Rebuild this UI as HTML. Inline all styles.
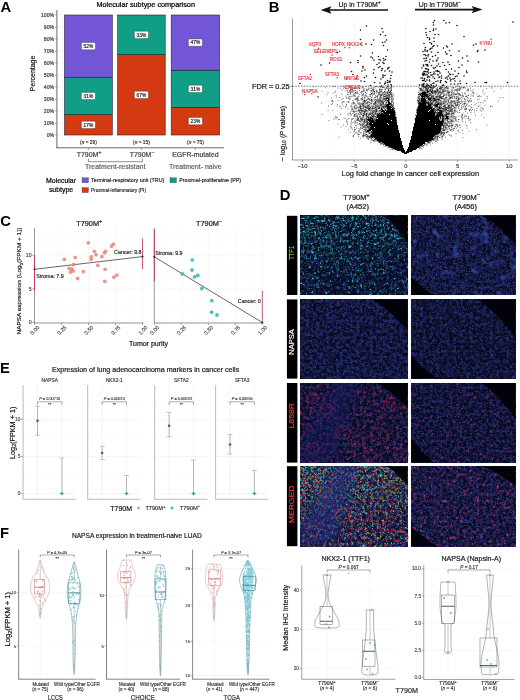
<!DOCTYPE html>
<html><head><meta charset="utf-8"><title>Figure</title>
<style>html,body{margin:0;padding:0;background:#fff;} svg{display:block;} text{font-family:'Liberation Sans', Arial, sans-serif;}</style>
</head><body>
<svg width="520" height="700" viewBox="0 0 520 700">
<defs><linearGradient id="gTopG" x1="0" y1="0" x2="0.25" y2="1"><stop offset="0" stop-color="#fff"/><stop offset="0.45" stop-color="#fff" stop-opacity="0.6"/><stop offset="0.75" stop-color="#fff" stop-opacity="0"/></linearGradient><mask id="gTop" maskContentUnits="objectBoundingBox"><rect width="1" height="1" fill="url(#gTopG)"/></mask><filter id="soft" x="-0.2" y="-0.2" width="1.4" height="1.4"><feGaussianBlur stdDeviation="4"/></filter><filter id="rblur" x="-0.3" y="-0.3" width="1.6" height="1.6"><feGaussianBlur stdDeviation="0.5"/></filter><filter id="t00" x="0" y="0" width="1" height="1" color-interpolation-filters="sRGB"><feFlood flood-color="#070a1c" result="bg"/><feTurbulence type="fractalNoise" baseFrequency="0.3" numOctaves="2" seed="3" result="h0"/><feColorMatrix in="h0" type="matrix" values="0 0 0 0 0.1 0 0 0 0 0.18 0 0 0 0 0.45 3.2 0 0 0 -1.45" result="c0"/><feTurbulence type="fractalNoise" baseFrequency="0.8" numOctaves="2" seed="4" result="h1"/><feColorMatrix in="h1" type="matrix" values="0 0 0 0 0.22 0 0 0 0 0.26 0 0 0 0 0.6 4 0 0 0 -2.4" result="c1"/><feTurbulence type="fractalNoise" baseFrequency="0.35" numOctaves="2" seed="7" result="h2"/><feColorMatrix in="h2" type="matrix" values="0 0 0 0 0.2 0 0 0 0 0.8 0 0 0 0 0.75 5 0 0 0 -3.1" result="c2"/><feMerge><feMergeNode in="bg"/><feMergeNode in="c0"/><feMergeNode in="c1"/><feMergeNode in="c2"/></feMerge></filter><filter id="t00e0" x="0" y="0" width="1" height="1" color-interpolation-filters="sRGB"><feFlood flood-color="rgba(0,0,0,0)" result="bg"/><feTurbulence type="fractalNoise" baseFrequency="0.4" numOctaves="2" seed="5" result="h0"/><feColorMatrix in="h0" type="matrix" values="0 0 0 0 0.2 0 0 0 0 0.8 0 0 0 0 0.7 5 0 0 0 -2.85" result="c0"/><feTurbulence type="fractalNoise" baseFrequency="0.5" numOctaves="2" seed="8" result="h1"/><feColorMatrix in="h1" type="matrix" values="0 0 0 0 0.2 0 0 0 0 0.7 0 0 0 0 0.45 5 0 0 0 -3.1" result="c1"/><feMerge><feMergeNode in="bg"/><feMergeNode in="c0"/><feMergeNode in="c1"/></feMerge></filter><filter id="t01" x="0" y="0" width="1" height="1" color-interpolation-filters="sRGB"><feFlood flood-color="#070a1c" result="bg"/><feTurbulence type="fractalNoise" baseFrequency="0.3" numOctaves="2" seed="13" result="h0"/><feColorMatrix in="h0" type="matrix" values="0 0 0 0 0.12 0 0 0 0 0.14 0 0 0 0 0.38 3.2 0 0 0 -1.2" result="c0"/><feTurbulence type="fractalNoise" baseFrequency="0.8" numOctaves="2" seed="14" result="h1"/><feColorMatrix in="h1" type="matrix" values="0 0 0 0 0.22 0 0 0 0 0.26 0 0 0 0 0.6 4 0 0 0 -2.2" result="c1"/><feTurbulence type="fractalNoise" baseFrequency="0.1" numOctaves="2" seed="15" result="h2"/><feColorMatrix in="h2" type="matrix" values="0 0 0 0 0.2 0 0 0 0 0.3 0 0 0 0 0.68 4 0 0 0 -2.4" result="c2"/><feMerge><feMergeNode in="bg"/><feMergeNode in="c0"/><feMergeNode in="c1"/><feMergeNode in="c2"/></feMerge></filter><filter id="t10" x="0" y="0" width="1" height="1" color-interpolation-filters="sRGB"><feFlood flood-color="#070a1c" result="bg"/><feTurbulence type="fractalNoise" baseFrequency="0.3" numOctaves="2" seed="23" result="h0"/><feColorMatrix in="h0" type="matrix" values="0 0 0 0 0.12 0 0 0 0 0.14 0 0 0 0 0.38 3.2 0 0 0 -1.2" result="c0"/><feTurbulence type="fractalNoise" baseFrequency="0.8" numOctaves="2" seed="24" result="h1"/><feColorMatrix in="h1" type="matrix" values="0 0 0 0 0.22 0 0 0 0 0.26 0 0 0 0 0.6 4 0 0 0 -2.3" result="c1"/><feMerge><feMergeNode in="bg"/><feMergeNode in="c0"/><feMergeNode in="c1"/></feMerge></filter><filter id="t11" x="0" y="0" width="1" height="1" color-interpolation-filters="sRGB"><feFlood flood-color="#070a1c" result="bg"/><feTurbulence type="fractalNoise" baseFrequency="0.3" numOctaves="2" seed="33" result="h0"/><feColorMatrix in="h0" type="matrix" values="0 0 0 0 0.12 0 0 0 0 0.14 0 0 0 0 0.38 3.2 0 0 0 -1.3" result="c0"/><feTurbulence type="fractalNoise" baseFrequency="0.8" numOctaves="2" seed="34" result="h1"/><feColorMatrix in="h1" type="matrix" values="0 0 0 0 0.22 0 0 0 0 0.26 0 0 0 0 0.6 4 0 0 0 -2.35" result="c1"/><feMerge><feMergeNode in="bg"/><feMergeNode in="c0"/><feMergeNode in="c1"/></feMerge></filter><filter id="t20" x="0" y="0" width="1" height="1" color-interpolation-filters="sRGB"><feFlood flood-color="#070a1c" result="bg"/><feTurbulence type="fractalNoise" baseFrequency="0.3" numOctaves="2" seed="43" result="h0"/><feColorMatrix in="h0" type="matrix" values="0 0 0 0 0.12 0 0 0 0 0.14 0 0 0 0 0.38 3.2 0 0 0 -1.3" result="c0"/><feTurbulence type="fractalNoise" baseFrequency="0.8" numOctaves="2" seed="44" result="h1"/><feColorMatrix in="h1" type="matrix" values="0 0 0 0 0.22 0 0 0 0 0.26 0 0 0 0 0.6 4 0 0 0 -2.35" result="c1"/><feTurbulence type="fractalNoise" baseFrequency="0.3" numOctaves="2" seed="45" result="h2"/><feColorMatrix in="h2" type="matrix" values="0 0 0 0 0.6 0 0 0 0 0.12 0 0 0 0 0.3 4.2 0 0 0 -2.4" result="c2"/><feMerge><feMergeNode in="bg"/><feMergeNode in="c0"/><feMergeNode in="c1"/><feMergeNode in="c2"/></feMerge></filter><clipPath id="cp20"><rect x="300.0" y="383.0" width="107.6" height="79.6"/></clipPath><filter id="t21" x="0" y="0" width="1" height="1" color-interpolation-filters="sRGB"><feFlood flood-color="#070a1c" result="bg"/><feTurbulence type="fractalNoise" baseFrequency="0.3" numOctaves="2" seed="53" result="h0"/><feColorMatrix in="h0" type="matrix" values="0 0 0 0 0.12 0 0 0 0 0.14 0 0 0 0 0.38 3.2 0 0 0 -1.3" result="c0"/><feTurbulence type="fractalNoise" baseFrequency="0.8" numOctaves="2" seed="54" result="h1"/><feColorMatrix in="h1" type="matrix" values="0 0 0 0 0.22 0 0 0 0 0.26 0 0 0 0 0.6 4 0 0 0 -2.35" result="c1"/><feTurbulence type="fractalNoise" baseFrequency="0.3" numOctaves="2" seed="55" result="h2"/><feColorMatrix in="h2" type="matrix" values="0 0 0 0 0.6 0 0 0 0 0.15 0 0 0 0 0.55 4 0 0 0 -2.55" result="c2"/><feMerge><feMergeNode in="bg"/><feMergeNode in="c0"/><feMergeNode in="c1"/><feMergeNode in="c2"/></feMerge></filter><filter id="t30" x="0" y="0" width="1" height="1" color-interpolation-filters="sRGB"><feFlood flood-color="#080a1e" result="bg"/><feTurbulence type="fractalNoise" baseFrequency="0.3" numOctaves="2" seed="63" result="h0"/><feColorMatrix in="h0" type="matrix" values="0 0 0 0 0.12 0 0 0 0 0.14 0 0 0 0 0.38 3.2 0 0 0 -1.1" result="c0"/><feTurbulence type="fractalNoise" baseFrequency="0.8" numOctaves="2" seed="64" result="h1"/><feColorMatrix in="h1" type="matrix" values="0 0 0 0 0.22 0 0 0 0 0.26 0 0 0 0 0.6 4 0 0 0 -2.3" result="c1"/><feTurbulence type="fractalNoise" baseFrequency="0.3" numOctaves="2" seed="65" result="h2"/><feColorMatrix in="h2" type="matrix" values="0 0 0 0 0.72 0 0 0 0 0.1 0 0 0 0 0.28 4.5 0 0 0 -2.6" result="c2"/><feTurbulence type="fractalNoise" baseFrequency="0.35" numOctaves="2" seed="66" result="h3"/><feColorMatrix in="h3" type="matrix" values="0 0 0 0 0.15 0 0 0 0 0.72 0 0 0 0 0.62 4.5 0 0 0 -2.65" result="c3"/><feTurbulence type="fractalNoise" baseFrequency="0.4" numOctaves="2" seed="67" result="h4"/><feColorMatrix in="h4" type="matrix" values="0 0 0 0 0.85 0 0 0 0 0.6 0 0 0 0 0.3 4.5 0 0 0 -2.75" result="c4"/><feMerge><feMergeNode in="bg"/><feMergeNode in="c0"/><feMergeNode in="c1"/><feMergeNode in="c2"/><feMergeNode in="c3"/><feMergeNode in="c4"/></feMerge></filter><filter id="t30e0" x="0" y="0" width="1" height="1" color-interpolation-filters="sRGB"><feFlood flood-color="rgba(0,0,0,0)" result="bg"/><feTurbulence type="fractalNoise" baseFrequency="0.4" numOctaves="2" seed="68" result="h0"/><feColorMatrix in="h0" type="matrix" values="0 0 0 0 0.15 0 0 0 0 0.72 0 0 0 0 0.62 4.5 0 0 0 -2.4" result="c0"/><feTurbulence type="fractalNoise" baseFrequency="0.45" numOctaves="2" seed="69" result="h1"/><feColorMatrix in="h1" type="matrix" values="0 0 0 0 0.85 0 0 0 0 0.6 0 0 0 0 0.3 4.5 0 0 0 -2.5" result="c1"/><feMerge><feMergeNode in="bg"/><feMergeNode in="c0"/><feMergeNode in="c1"/></feMerge></filter><clipPath id="cp30"><rect x="300.0" y="466.2" width="107.6" height="80.0"/></clipPath><filter id="t31" x="0" y="0" width="1" height="1" color-interpolation-filters="sRGB"><feFlood flood-color="#070a1c" result="bg"/><feTurbulence type="fractalNoise" baseFrequency="0.3" numOctaves="2" seed="73" result="h0"/><feColorMatrix in="h0" type="matrix" values="0 0 0 0 0.12 0 0 0 0 0.14 0 0 0 0 0.38 3.2 0 0 0 -1.2" result="c0"/><feTurbulence type="fractalNoise" baseFrequency="0.8" numOctaves="2" seed="74" result="h1"/><feColorMatrix in="h1" type="matrix" values="0 0 0 0 0.22 0 0 0 0 0.26 0 0 0 0 0.6 4 0 0 0 -2.3" result="c1"/><feTurbulence type="fractalNoise" baseFrequency="0.3" numOctaves="2" seed="75" result="h2"/><feColorMatrix in="h2" type="matrix" values="0 0 0 0 0.65 0 0 0 0 0.15 0 0 0 0 0.45 4.5 0 0 0 -2.6" result="c2"/><feTurbulence type="fractalNoise" baseFrequency="0.35" numOctaves="2" seed="76" result="h3"/><feColorMatrix in="h3" type="matrix" values="0 0 0 0 0.15 0 0 0 0 0.72 0 0 0 0 0.62 4 0 0 0 -2.85" result="c3"/><feMerge><feMergeNode in="bg"/><feMergeNode in="c0"/><feMergeNode in="c1"/><feMergeNode in="c2"/><feMergeNode in="c3"/></feMerge></filter></defs>
<rect width="520" height="700" fill="#fff"/>
<text x="0.50" y="11.50" font-size="14.8" font-weight="bold">A</text>
<text x="145.70" y="7.20" font-size="7.3" text-anchor="middle" textLength="98.5" lengthAdjust="spacingAndGlyphs" stroke="#000" stroke-width="0.219">Molecular subtype comparison</text>
<line x1="57.50" y1="135.00" x2="225.00" y2="135.00" stroke="#ececec" stroke-width="0.4"/>
<line x1="57.50" y1="123.00" x2="225.00" y2="123.00" stroke="#ececec" stroke-width="0.4"/>
<line x1="57.50" y1="111.00" x2="225.00" y2="111.00" stroke="#ececec" stroke-width="0.4"/>
<line x1="57.50" y1="99.00" x2="225.00" y2="99.00" stroke="#ececec" stroke-width="0.4"/>
<line x1="57.50" y1="87.00" x2="225.00" y2="87.00" stroke="#ececec" stroke-width="0.4"/>
<line x1="57.50" y1="75.00" x2="225.00" y2="75.00" stroke="#ececec" stroke-width="0.4"/>
<line x1="57.50" y1="63.00" x2="225.00" y2="63.00" stroke="#ececec" stroke-width="0.4"/>
<line x1="57.50" y1="51.00" x2="225.00" y2="51.00" stroke="#ececec" stroke-width="0.4"/>
<line x1="57.50" y1="39.00" x2="225.00" y2="39.00" stroke="#ececec" stroke-width="0.4"/>
<line x1="57.50" y1="27.00" x2="225.00" y2="27.00" stroke="#ececec" stroke-width="0.4"/>
<line x1="57.50" y1="15.00" x2="225.00" y2="15.00" stroke="#ececec" stroke-width="0.4"/>
<line x1="56.90" y1="10.00" x2="56.90" y2="148.20" stroke="#444" stroke-width="0.8"/>
<line x1="56.50" y1="147.80" x2="224.00" y2="147.80" stroke="#444" stroke-width="0.8"/>
<line x1="54.80" y1="135.00" x2="57.00" y2="135.00" stroke="#555" stroke-width="0.5"/>
<text x="54.20" y="136.80" font-size="5.2" text-anchor="end" fill="#333" stroke="#333" stroke-width="0.156">0%</text>
<line x1="54.80" y1="123.00" x2="57.00" y2="123.00" stroke="#555" stroke-width="0.5"/>
<text x="54.20" y="124.80" font-size="5.2" text-anchor="end" fill="#333" stroke="#333" stroke-width="0.156">10%</text>
<line x1="54.80" y1="111.00" x2="57.00" y2="111.00" stroke="#555" stroke-width="0.5"/>
<text x="54.20" y="112.80" font-size="5.2" text-anchor="end" fill="#333" stroke="#333" stroke-width="0.156">20%</text>
<line x1="54.80" y1="99.00" x2="57.00" y2="99.00" stroke="#555" stroke-width="0.5"/>
<text x="54.20" y="100.80" font-size="5.2" text-anchor="end" fill="#333" stroke="#333" stroke-width="0.156">30%</text>
<line x1="54.80" y1="87.00" x2="57.00" y2="87.00" stroke="#555" stroke-width="0.5"/>
<text x="54.20" y="88.80" font-size="5.2" text-anchor="end" fill="#333" stroke="#333" stroke-width="0.156">40%</text>
<line x1="54.80" y1="75.00" x2="57.00" y2="75.00" stroke="#555" stroke-width="0.5"/>
<text x="54.20" y="76.80" font-size="5.2" text-anchor="end" fill="#333" stroke="#333" stroke-width="0.156">50%</text>
<line x1="54.80" y1="63.00" x2="57.00" y2="63.00" stroke="#555" stroke-width="0.5"/>
<text x="54.20" y="64.80" font-size="5.2" text-anchor="end" fill="#333" stroke="#333" stroke-width="0.156">60%</text>
<line x1="54.80" y1="51.00" x2="57.00" y2="51.00" stroke="#555" stroke-width="0.5"/>
<text x="54.20" y="52.80" font-size="5.2" text-anchor="end" fill="#333" stroke="#333" stroke-width="0.156">70%</text>
<line x1="54.80" y1="39.00" x2="57.00" y2="39.00" stroke="#555" stroke-width="0.5"/>
<text x="54.20" y="40.80" font-size="5.2" text-anchor="end" fill="#333" stroke="#333" stroke-width="0.156">80%</text>
<line x1="54.80" y1="27.00" x2="57.00" y2="27.00" stroke="#555" stroke-width="0.5"/>
<text x="54.20" y="28.80" font-size="5.2" text-anchor="end" fill="#333" stroke="#333" stroke-width="0.156">90%</text>
<line x1="54.80" y1="15.00" x2="57.00" y2="15.00" stroke="#555" stroke-width="0.5"/>
<text x="54.20" y="16.80" font-size="5.2" text-anchor="end" fill="#333" stroke="#333" stroke-width="0.156">100%</text>
<text transform="translate(35.30,73.50) rotate(-90)" font-size="7.0" text-anchor="middle" fill="#222" stroke="#222" stroke-width="0.210">Percentage</text>
<rect x="64.50" y="114.60" width="47.80" height="20.40" fill="#d43a12" stroke="#1a1a2a" stroke-width="0.55"/>
<rect x="64.50" y="77.40" width="47.80" height="37.20" fill="#119e87" stroke="#1a1a2a" stroke-width="0.55"/>
<rect x="64.50" y="15.00" width="47.80" height="62.40" fill="#7356d6" stroke="#1a1a2a" stroke-width="0.55"/>
<rect x="81.40" y="121.20" width="14.00" height="7.20" fill="#fff" stroke="#222" stroke-width="0.35" rx="0.8"/>
<text x="88.40" y="126.50" font-size="4.8" text-anchor="middle" fill="#111" stroke="#111" stroke-width="0.144">17%</text>
<rect x="81.40" y="92.40" width="14.00" height="7.20" fill="#fff" stroke="#222" stroke-width="0.35" rx="0.8"/>
<text x="88.40" y="97.70" font-size="4.8" text-anchor="middle" fill="#111" stroke="#111" stroke-width="0.144">31%</text>
<rect x="81.40" y="42.60" width="14.00" height="7.20" fill="#fff" stroke="#222" stroke-width="0.35" rx="0.8"/>
<text x="88.40" y="47.90" font-size="4.8" text-anchor="middle" fill="#111" stroke="#111" stroke-width="0.144">52%</text>
<rect x="117.60" y="54.60" width="47.60" height="80.40" fill="#d43a12" stroke="#1a1a2a" stroke-width="0.55"/>
<rect x="117.60" y="15.00" width="47.60" height="39.60" fill="#119e87" stroke="#1a1a2a" stroke-width="0.55"/>
<rect x="134.40" y="91.20" width="14.00" height="7.20" fill="#fff" stroke="#222" stroke-width="0.35" rx="0.8"/>
<text x="141.40" y="96.50" font-size="4.8" text-anchor="middle" fill="#111" stroke="#111" stroke-width="0.144">67%</text>
<rect x="134.40" y="31.20" width="14.00" height="7.20" fill="#fff" stroke="#222" stroke-width="0.35" rx="0.8"/>
<text x="141.40" y="36.50" font-size="4.8" text-anchor="middle" fill="#111" stroke="#111" stroke-width="0.144">33%</text>
<rect x="171.20" y="107.40" width="48.40" height="27.60" fill="#d43a12" stroke="#1a1a2a" stroke-width="0.55"/>
<rect x="171.20" y="70.20" width="48.40" height="37.20" fill="#119e87" stroke="#1a1a2a" stroke-width="0.55"/>
<rect x="171.20" y="15.00" width="48.40" height="55.20" fill="#7356d6" stroke="#1a1a2a" stroke-width="0.55"/>
<rect x="188.40" y="117.60" width="14.00" height="7.20" fill="#fff" stroke="#222" stroke-width="0.35" rx="0.8"/>
<text x="195.40" y="122.90" font-size="4.8" text-anchor="middle" fill="#111" stroke="#111" stroke-width="0.144">23%</text>
<rect x="188.40" y="85.20" width="14.00" height="7.20" fill="#fff" stroke="#222" stroke-width="0.35" rx="0.8"/>
<text x="195.40" y="90.50" font-size="4.8" text-anchor="middle" fill="#111" stroke="#111" stroke-width="0.144">31%</text>
<rect x="188.40" y="39.00" width="14.00" height="7.20" fill="#fff" stroke="#222" stroke-width="0.35" rx="0.8"/>
<text x="195.40" y="44.30" font-size="4.8" text-anchor="middle" fill="#111" stroke="#111" stroke-width="0.144">47%</text>
<text x="88.40" y="143.80" font-size="4.8" text-anchor="middle" fill="#222" stroke="#222" stroke-width="0.144">(<tspan font-style="italic">n</tspan> = 29)</text>
<line x1="88.40" y1="148.00" x2="88.40" y2="150.00" stroke="#555" stroke-width="0.5"/>
<text x="141.40" y="143.80" font-size="4.8" text-anchor="middle" fill="#222" stroke="#222" stroke-width="0.144">(<tspan font-style="italic">n</tspan> = 15)</text>
<line x1="141.40" y1="148.00" x2="141.40" y2="150.00" stroke="#555" stroke-width="0.5"/>
<text x="195.40" y="143.80" font-size="4.8" text-anchor="middle" fill="#222" stroke="#222" stroke-width="0.144">(<tspan font-style="italic">n</tspan> = 75)</text>
<line x1="195.40" y1="148.00" x2="195.40" y2="150.00" stroke="#555" stroke-width="0.5"/>
<text x="89.20" y="156.60" font-size="6.9" text-anchor="middle" fill="#444" stroke="#444" stroke-width="0.207">T790M<tspan dy="-2.8" font-size="5.6">+</tspan></text>
<text x="142.20" y="156.60" font-size="6.9" text-anchor="middle" fill="#444" stroke="#444" stroke-width="0.207">T790M<tspan dy="-2.8" font-size="5.6">−</tspan></text>
<text x="195.40" y="156.60" font-size="6.9" text-anchor="middle" fill="#444" stroke="#444" stroke-width="0.207">EGFR-mutated</text>
<path d="M88.5 158.6 V161.7 H142.3 V158.6" fill="none" stroke="#444" stroke-width="0.6"/>
<text x="115.20" y="169.40" font-size="7.0" text-anchor="middle" fill="#666" stroke="#666" stroke-width="0.210">Treatment-resistant</text>
<text x="195.40" y="169.40" font-size="7.0" text-anchor="middle" fill="#666" stroke="#666" stroke-width="0.210">Treatment- naive</text>
<text x="61.00" y="183.00" font-size="6.9" text-anchor="middle" stroke="#000" stroke-width="0.207">Molecular</text>
<text x="61.00" y="191.80" font-size="6.9" text-anchor="middle" stroke="#000" stroke-width="0.207">subtype</text>
<rect x="82.00" y="177.80" width="6.50" height="5.00" fill="#7356d6" stroke="#333" stroke-width="0.3"/>
<rect x="82.00" y="187.60" width="6.50" height="5.00" fill="#d43a12" stroke="#333" stroke-width="0.3"/>
<rect x="170.00" y="177.80" width="6.50" height="5.00" fill="#119e87" stroke="#333" stroke-width="0.3"/>
<text x="91.00" y="182.20" font-size="5.35" fill="#222" stroke="#222" stroke-width="0.160">Terminal-respiratory unit (TRU)</text>
<text x="179.30" y="182.20" font-size="5.3" fill="#222" stroke="#222" stroke-width="0.159">Proximal-proliferative (PP)</text>
<text x="91.00" y="192.00" font-size="4.65" fill="#222" stroke="#222" stroke-width="0.140">Proximal-inflammatory (PI)</text>
<text x="268.70" y="11.70" font-size="14.8" font-weight="bold">B</text>
<line x1="388" y1="10" x2="326" y2="10" stroke="#111" stroke-width="1.7"/>
<path d="M320.6 10 L331.5 6.3 L329.3 10 L331.5 13.7 Z" fill="#111"/>
<line x1="415" y1="9.6" x2="477" y2="9.6" stroke="#111" stroke-width="1.7"/>
<path d="M482.5 9.6 L471.6 5.9 L473.8 9.6 L471.6 13.3 Z" fill="#111"/>
<text x="338.50" y="6.60" font-size="6.9" fill="#222" stroke="#222" stroke-width="0.207">Up in T790M<tspan dy="-2.3" font-size="5">+</tspan></text>
<text x="418.70" y="6.60" font-size="6.9" fill="#222" stroke="#222" stroke-width="0.207">Up in T790M<tspan dy="-2.3" font-size="5">−</tspan></text>
<line x1="302.60" y1="18.50" x2="302.60" y2="160.00" stroke="#ebebeb" stroke-width="0.5"/>
<line x1="354.25" y1="18.50" x2="354.25" y2="160.00" stroke="#ebebeb" stroke-width="0.5"/>
<line x1="405.90" y1="18.50" x2="405.90" y2="160.00" stroke="#ebebeb" stroke-width="0.5"/>
<line x1="457.55" y1="18.50" x2="457.55" y2="160.00" stroke="#ebebeb" stroke-width="0.5"/>
<line x1="509.20" y1="18.50" x2="509.20" y2="160.00" stroke="#ebebeb" stroke-width="0.5"/>
<line x1="328.42" y1="18.50" x2="328.42" y2="160.00" stroke="#f4f4f4" stroke-width="0.4"/>
<line x1="380.07" y1="18.50" x2="380.07" y2="160.00" stroke="#f4f4f4" stroke-width="0.4"/>
<line x1="431.72" y1="18.50" x2="431.72" y2="160.00" stroke="#f4f4f4" stroke-width="0.4"/>
<line x1="483.38" y1="18.50" x2="483.38" y2="160.00" stroke="#f4f4f4" stroke-width="0.4"/>
<line x1="292.50" y1="18.50" x2="292.50" y2="160.00" stroke="#555" stroke-width="0.6"/>
<line x1="292.50" y1="160.00" x2="518.00" y2="160.00" stroke="#555" stroke-width="0.6"/>
<line x1="302.60" y1="160.00" x2="302.60" y2="162.00" stroke="#555" stroke-width="0.5"/>
<text x="302.60" y="168.20" font-size="5.8" text-anchor="middle" fill="#444" stroke="#444" stroke-width="0.174">−10</text>
<line x1="354.25" y1="160.00" x2="354.25" y2="162.00" stroke="#555" stroke-width="0.5"/>
<text x="354.25" y="168.20" font-size="5.8" text-anchor="middle" fill="#444" stroke="#444" stroke-width="0.174">−5</text>
<line x1="405.90" y1="160.00" x2="405.90" y2="162.00" stroke="#555" stroke-width="0.5"/>
<text x="405.90" y="168.20" font-size="5.8" text-anchor="middle" fill="#444" stroke="#444" stroke-width="0.174">0</text>
<line x1="457.55" y1="160.00" x2="457.55" y2="162.00" stroke="#555" stroke-width="0.5"/>
<text x="457.55" y="168.20" font-size="5.8" text-anchor="middle" fill="#444" stroke="#444" stroke-width="0.174">5</text>
<line x1="509.20" y1="160.00" x2="509.20" y2="162.00" stroke="#555" stroke-width="0.5"/>
<text x="509.20" y="168.20" font-size="5.8" text-anchor="middle" fill="#444" stroke="#444" stroke-width="0.174">10</text>
<text x="410.30" y="176.00" font-size="7.5" text-anchor="middle" fill="#222" stroke="#222" stroke-width="0.225">Log fold change in cancer cell expression</text>
<text transform="translate(284.50,133.60) rotate(-90)" font-size="7.2" text-anchor="middle" fill="#222" stroke="#222" stroke-width="0.216">− log<tspan font-size="5" dy="1.5">10</tspan><tspan dy="-1.5"> (</tspan><tspan font-style="italic">P</tspan> values)</text>
<text x="289.50" y="88.60" font-size="7.3" text-anchor="end" fill="#222" stroke="#222" stroke-width="0.219">FDR = 0.25</text>
<line x1="289.50" y1="86.20" x2="292.50" y2="86.20" stroke="#555" stroke-width="0.5"/>
<path d="M427 90.5h1M427 91.5h1M431 91.5h1M422 92.5h4M427 92.5h1M421 93.5h5M420 94.5h7M422 95.5h1M424 95.5h3M421 96.5h4M426 96.5h1M428 96.5h1M422 97.5h1M386 98.5h3M421 98.5h4M428 98.5h3M433 98.5h2M388 99.5h1M421 99.5h5M428 99.5h3M387 100.5h2M421 100.5h5M434 100.5h1M388 101.5h1M421 101.5h5M388 102.5h2M419 102.5h1M422 102.5h5M428 102.5h1M388 103.5h3M419 103.5h7M428 103.5h1M438 103.5h1M387 104.5h3M419 104.5h7M428 104.5h3M436 104.5h3M386 105.5h3M419 105.5h7M428 105.5h3M435 105.5h3M386 106.5h5M392 106.5h1M418 106.5h13M436 106.5h2M387 107.5h5M418 107.5h14M439 107.5h1M369 108.5h1M387 108.5h4M392 108.5h1M418 108.5h14M439 108.5h1M381 109.5h2M387 109.5h7M418 109.5h12M431 109.5h3M382 110.5h2M385 110.5h1M387 110.5h7M417 110.5h12M430 110.5h4M439 110.5h3M381 111.5h4M386 111.5h9M417 111.5h11M429 111.5h5M440 111.5h2M383 112.5h12M417 112.5h18M438 112.5h4M379 113.5h1M381 113.5h2M384 113.5h11M417 113.5h18M439 113.5h3M378 114.5h1M380 114.5h9M390 114.5h5M417 114.5h18M437 114.5h6M377 115.5h18M416 115.5h19M436 115.5h7M372 116.5h1M377 116.5h18M416 116.5h24M442 116.5h2M446 116.5h2M370 117.5h1M377 117.5h19M416 117.5h23M440 117.5h1M446 117.5h2M370 118.5h3M378 118.5h18M415 118.5h24M446 118.5h2M367 119.5h4M372 119.5h1M376 119.5h20M415 119.5h24M442 119.5h1M368 120.5h6M375 120.5h16M392 120.5h4M415 120.5h14M430 120.5h10M442 120.5h1M369 121.5h5M376 121.5h20M415 121.5h29M370 122.5h27M415 122.5h28M369 123.5h3M373 123.5h14M388 123.5h9M414 123.5h29M369 124.5h19M389 124.5h8M414 124.5h21M436 124.5h7M370 125.5h28M414 125.5h28M371 126.5h27M414 126.5h27M370 127.5h4M375 127.5h23M413 127.5h28M370 128.5h28M413 128.5h28M369 129.5h29M413 129.5h28M367 130.5h4M372 130.5h27M413 130.5h28M367 131.5h2M373 131.5h26M412 131.5h28M372 132.5h27M412 132.5h28M372 133.5h28M412 133.5h27M371 134.5h29M412 134.5h25M371 135.5h29M412 135.5h23M371 136.5h29M411 136.5h23M372 137.5h1M374 137.5h26M411 137.5h22M375 138.5h26M411 138.5h22M377 139.5h24M411 139.5h22M377 140.5h24M410 140.5h21M379 141.5h23M410 141.5h19M382 142.5h20M410 142.5h15M384 143.5h18M409 143.5h16M385 144.5h17M409 144.5h14M386 145.5h17M409 145.5h13M389 146.5h14M409 146.5h11M391 147.5h12M408 147.5h11M393 148.5h11M408 148.5h9M395 149.5h9M407 149.5h9M397 150.5h8M407 150.5h6M401 151.5h4M406 151.5h6M402 152.5h7M404 153.5h3" stroke="#000" stroke-width="1.05" fill="none"/>
<path transform="scale(0.5)" d="M961 173h0m-33 1h0m-33 2h0m-33 0h0m-1-1h0m-6-2h0m-3 1h0m-9 2h0m-61-1h0m-6-2h0m-11 2h0m-4-1h0m-17 1h0m-35 1h0m-33 0h0m-6-3h0m31 5h0m2 6h0m3-4h0m0 4h0m9 0h0m9-1h0m10-4h0m3-3h0m10 7h0m0-4h0m27-2h0m3 4h0m6-1h0m59 2h0m3 0h0m16-3h0m0 1h0m2-3h0m14 3h0m1 4h0m1-2h0m0 0h0m1-5h0m5 3h0m0 3h0m3-6h0m4 3h0m13 0h0m0 2h0m7-1h0m3-2h0m6-3h0m15 6h0m1-2h0m0 11h0m-17 0h0m-32-5h0m-5-1h0m-1 1h0m-1 1h0m0 4h0m-7 0h0m-3-3h0m-1-4h0m-2 3h0m-13 3h0m-7 1h0m-11-2h0m-50 1h0m-4-2h0m-4 1h0m-12-4h0m-2 3h0m-18 0h0m-33-1h0m-8 3h0m-69 3h0m77 1h0m3-2h0m16 8h0m6-2h0m10-3h0m5-3h0m18 1h0m1 6h0m0 0h0m6-4h0m0 3h0m4-1h0m55 0h0m2 1h0m15-3h0m8 1h0m0-2h0m1 4h0m0-1h0m1 0h0m6-4h0m1 0h0m0 3h0m1-3h0m1 5h0m0 1h0m8-2h0m10 1h0m6-5h0m7 1h0m30 6h0m22-7h0m1 5h0m12 2h0m4-7h0m32 2h0m-68 7h0m-14 1h0m-11-1h0m-2 5h0m-2-5h0m-6 4h0m-1-4h0m-19 3h0m-3 1h0m-5 2h0m-3-4h0m-1 3h0m-4-5h0m-3-2h0m-2 7h0m-1-3h0m-1 3h0m-4-4h0m-2 3h0m-2 1h0m-12-3h0m-53 2h0m-15-1h0m-7-2h0m-1-1h0m-3 6h0m-3-2h0m-1-5h0m-6 4h0m0 2h0m-4-5h0m-18 2h0m-6 3h0m-2-1h0m-4 2h0m-1-1h0m-8-2h0m-43 2h0m-1-6h0m0 2h0m10 9h0m12 0h0m20 2h0m13-5h0m2 6h0m11 0h0m2-7h0m2 4h0m2 3h0m4-1h0m3-1h0m6 2h0m1-1h0m9-3h0m8 1h0m11-4h0m3 5h0m79-4h0m7 3h0m13-3h0m3 7h0m7-7h0m3 7h0m7-2h0m6-2h0m3-2h0m3-1h0m4-1h0m43 12h0m-23-1h0m-19 2h0m-5 2h0m-9-4h0m0 4h0m-1-5h0m-2 5h0m0-3h0m-1-2h0m0 1h0m-4-2h0m-1 5h0m-1-1h0m-5-4h0m-3 3h0m0-3h0m-3 0h0m-4 2h0m-4 0h0m-3 2h0m-110-3h0m-7-1h0m-2 3h0m-1-1h0m0 1h0m-1-2h0m0 5h0m-15-6h0m-4-1h0m-1 3h0m0 2h0m-1-2h0m-2 0h0m-1 3h0m-1-2h0m-6 1h0m-1 0h0m-6 2h0m-3-6h0m-15 10h0m5-1h0m9 3h0m17-1h0m0-1h0m2-3h0m4 7h0m5-3h0m7-1h0m6 0h0m1 2h0m4-5h0m114 7h0m7-3h0m15 0h0m2 3h0m2-2h0m1-4h0m2 4h0m3-2h0m5 0h0m11 5h0m1-7h0m7 1h0m6 6h0m10-7h0m-31 13h0m-14-5h0m-1 4h0m-5 0h0m-4 1h0m-3-1h0m-2-1h0m-131-2h0m-3 2h0m0-4h0m-5 7h0m-19-2h0m-3 0h0m-10 0h0m0-4h0m-2-1h0m-21 4h0m5 5h0m22 4h0m17-4h0m0 0h0m2 1h0m1 4h0m0-3h0m16 0h0m41 0h0m0 0h0m1-2h0m90 0h0m3 0h0m0 0h0m2 5h0m7-4h0m7 5h0m1-6h0m3 2h0m0-3h0m7 9h0m-1-1h0m-8 3h0m-12 5h0m-4-4h0m-2-2h0m0-1h0m-1 2h0m-146 4h0m0-1h0m-5-5h0m-1 0h0m-4 5h0m-6-4h0m-14 10h0m28-4h0m7 7h0m52-6h0m86 7h0m7-3h0m15 1h0m4-4h0m9 2h0m21 2h0m-49 2h0m-12 8h0m-1-4h0m-138-1h0m-4-2h0m-1 3h0m-17 0h0m-6-3h0m24 7h0m13 4h0m125-2h0m7 1h0m5-3h0m7 2h0m-19 9h0m-7-3h0m-5 5h0m-4 1h0m-96-2h0m-10-3h0m27 12h0m67 0h0m3 1h0m14-4h0m-76 9h0m-1-2h0m-2 2h0" stroke="#000" stroke-opacity="0.5" stroke-width="2.5" stroke-linecap="round"/>
<path transform="scale(0.5)" d="M891 175h0m-17 1h0m-15-3h0m-2 2h0m-5 1h0m-5-3h0m-85 0h0m-11 0h0m-3 2h0m-16-2h0m-7 0h0m-21 5h0m6-2h0m11 8h0m7-3h0m0-3h0m6 2h0m7 1h0m6 0h0m6 1h0m1 0h0m6 1h0m9 0h0m0 0h0m8-1h0m83 1h0m4-1h0m1-3h0m1-3h0m7 8h0m1-1h0m6-6h0m1 7h0m14-3h0m4 3h0m0 0h0m7-7h0m2 6h0m5-5h0m24 0h0m5 3h0m42-5h0m18 0h0m-44 15h0m-4-3h0m-9-3h0m-8 5h0m-8-3h0m-8 2h0m-2-1h0m-13 3h0m-1-5h0m-2-1h0m-3 7h0m-3-6h0m-5 2h0m-11-4h0m-2 7h0m-4-3h0m-6-4h0m-4 2h0m-9-1h0m-1 5h0m0 1h0m-2-6h0m-9 1h0m-3 5h0m-2-4h0m-56 3h0m-5 1h0m-2-4h0m-7 2h0m-6 2h0m-1-1h0m-19-3h0m-10 0h0m-2-2h0m-10-1h0m-7 3h0m-3-1h0m-17 11h0m18 0h0m2 2h0m8-2h0m7-3h0m4-2h0m4 5h0m2 1h0m9 0h0m3 1h0m0-5h0m4 0h0m0-2h0m4 8h0m3-4h0m5 3h0m1-2h0m1 1h0m2 0h0m0-2h0m3-1h0m3-3h0m5 1h0m81 0h0m3-1h0m4 8h0m1-3h0m1 1h0m0 0h0m3-5h0m2 6h0m0-5h0m2 3h0m1 1h0m2-4h0m1 1h0m1 0h0m4 3h0m4-4h0m2 1h0m0 3h0m6-3h0m2 1h0m15 3h0m0-7h0m1 5h0m15-4h0m3 10h0m-5 3h0m-2-3h0m-11 0h0m-12-1h0m-2 0h0m-5 6h0m-2-3h0m-9-2h0m-2 4h0m-5 0h0m0 0h0m-1-6h0m-4 3h0m-5 2h0m0 2h0m-2-2h0m-3-2h0m0-2h0m-5-1h0m-6 5h0m-83 1h0m-12-4h0m-2 1h0m-4-4h0m-2 8h0m-1-5h0m-4 4h0m-8-3h0m-3 1h0m-2 1h0m0 1h0m-4-4h0m-14-2h0m-9 5h0m-10-3h0m-9 0h0m-8 9h0m13-3h0m9 2h0m1 2h0m15-1h0m3-1h0m3-1h0m1-1h0m2 5h0m0 1h0m1-6h0m3 4h0m19 3h0m1-5h0m7 2h0m4-1h0m0-2h0m4 3h0m7-4h0m10 1h0m1 6h0m2 0h0m1-2h0m66-2h0m2-1h0m9 3h0m5-4h0m7 5h0m12-3h0m2-1h0m6 1h0m2 2h0m0-3h0m5-1h0m0 5h0m1-3h0m8 3h0m5-2h0m40 0h0m9 4h0m-3 5h0m-9-5h0m-14 2h0m-1 2h0m-7-2h0m-21 2h0m-6-4h0m0 6h0m-8-3h0m-1 0h0m-3 4h0m-1-3h0m-1-3h0m-7 0h0m-4 4h0m-4-3h0m-2 2h0m-1-5h0m0 4h0m-5-4h0m-33 2h0m-63 0h0m-1 0h0m-3 3h0m-5 0h0m-21 0h0m-2-3h0m-3 0h0m-1-1h0m-4 5h0m-6-6h0m-14 7h0m-46-2h0m40 6h0m3 3h0m5-3h0m15-1h0m0 2h0m1 1h0m13-3h0m1 4h0m0-4h0m1 6h0m5-5h0m10-2h0m111-1h0m1 2h0m3 1h0m17 4h0m1-4h0m4 1h0m38-2h0m16 4h0m-27 3h0m-7 6h0m-23 0h0m-4-1h0m-2-4h0m-3 3h0m-137 1h0m-12-4h0m-1 0h0m-5 3h0m-3-2h0m-3 0h0m-2 3h0m-7 1h0m0-4h0m3 6h0m18 1h0m3 4h0m11-4h0m43 0h0m98 4h0m1-6h0m3 2h0m16-2h0m1 2h0m22 14h0m-18-4h0m-2-1h0m-23 3h0m-4 1h0m-2-5h0m-149 4h0m-3-4h0m-24 5h0m2 4h0m6 3h0m11 2h0m0-5h0m156 5h0m3-3h0m5-5h0m1 0h0m9 4h0m6-3h0m-6 14h0m-13-5h0m-2 2h0m-7 2h0m-8 2h0m-129-7h0m-18 6h0m-3-6h0m-3 4h0m15 4h0m0 4h0m3 0h0m2-2h0m2-2h0m2 6h0m9 0h0m117-5h0m1-1h0m5 1h0m3 0h0m25-2h0m-43 10h0m-97 4h0m-10-6h0m15 8h0m8 6h0m1 1h0m63-1h0m5-2h0m4-3h0" stroke="#000" stroke-opacity="0.5" stroke-width="2.5" stroke-linecap="round"/>
<path transform="scale(0.5)" d="M930 175h0m-24 0h0m-40 0h0m-15-1h0m-1 1h0m-68 1h0m-7-3h0m-2 2h0m-4-1h0m-3 0h0m-9 0h0m-37 2h0m-30-1h0m2 6h0m12-3h0m15 3h0m10 1h0m3-4h0m1 3h0m10 1h0m6 1h0m1-5h0m12 5h0m13 0h0m2-5h0m5 3h0m69-1h0m6-3h0m2 5h0m2-4h0m0 4h0m6 2h0m2-3h0m0 1h0m1 1h0m1 1h0m0-3h0m3 0h0m1 1h0m3 2h0m10-1h0m0-1h0m6-5h0m0 7h0m21-2h0m1-2h0m5-2h0m48 10h0m-50 0h0m0 1h0m-5-2h0m-5 0h0m-11 4h0m-1-6h0m-5 5h0m-15-2h0m-1-1h0m0-2h0m-8 5h0m-5-5h0m-1 6h0m-2-1h0m-16-5h0m-3 2h0m-2 2h0m-58-3h0m-2-2h0m-3 7h0m-1-1h0m-2-5h0m-15 0h0m-2-1h0m-6 2h0m-5-1h0m-5 4h0m-8 2h0m-1-6h0m-4 2h0m-1-3h0m-2 8h0m-1-6h0m-22 0h0m-29 5h0m-37 2h0m1 2h0m37-1h0m26 2h0m16-1h0m15 0h0m5 4h0m6-6h0m2 2h0m12 2h0m3 2h0m3 0h0m7-2h0m2-4h0m15 6h0m1-3h0m54 0h0m8-2h0m3-1h0m13 0h0m0 3h0m6 2h0m1 1h0m1-5h0m2 0h0m1 5h0m8-3h0m2 1h0m32-2h0m2 4h0m5-7h0m20 0h0m-1 10h0m-6 2h0m-12 4h0m-8-3h0m-27 0h0m-2-4h0m-4 7h0m-2-6h0m0 4h0m-4 1h0m-3-4h0m0 4h0m-9 0h0m-7-1h0m0 0h0m-1 2h0m-3 0h0m-2 0h0m-1-6h0m-10 2h0m-1-3h0m-3 1h0m-1-1h0m-1 3h0m0-1h0m-1-3h0m-52 0h0m-17 1h0m-2 5h0m-11-2h0m-2 1h0m-1 0h0m-6-4h0m-8 2h0m-1 2h0m-7-1h0m0-3h0m-14 0h0m-8-1h0m-2 7h0m-10-3h0m15 10h0m16-2h0m12 2h0m0-3h0m2 1h0m0-3h0m6 5h0m3-4h0m4 4h0m3-2h0m8-3h0m1 3h0m6-2h0m2-1h0m64 7h0m32-6h0m12 6h0m1 0h0m1-1h0m0-4h0m4 2h0m5-1h0m1 3h0m6-3h0m8-2h0m4-2h0m13 7h0m8-1h0m6-2h0m12 8h0m-17-1h0m-2-1h0m-18 0h0m-6 4h0m-3-1h0m-3-2h0m-4-3h0m-4 3h0m-3 0h0m-4 3h0m-6 0h0m-2-1h0m-1 0h0m-5-1h0m-2 2h0m-1-4h0m-6 2h0m-27-2h0m-46-1h0m-15 4h0m-8-5h0m-10 0h0m-2 4h0m-1-3h0m-2 3h0m-3 2h0m-1-1h0m-3 1h0m-4-3h0m-4 4h0m-2-2h0m-4 3h0m-9-7h0m-4 2h0m-4-2h0m-5 5h0m-1 1h0m-1-4h0m-2 2h0m5 11h0m12-7h0m12 2h0m12 5h0m2-2h0m5-6h0m12 2h0m68 4h0m39-2h0m1 3h0m0-4h0m3 0h0m10-1h0m3 4h0m4-2h0m7-1h0m17-2h0m8 5h0m9 3h0m-3 3h0m-24-1h0m-8 3h0m-1-2h0m-6-4h0m-1 2h0m-3 1h0m-6-2h0m-49 1h0m-78 0h0m-1 0h0m-1 4h0m0-4h0m-1-1h0m-1 6h0m-13-7h0m-1 4h0m-2-2h0m-3-2h0m-6 7h0m0 1h0m-8-2h0m-13-1h0m-10 2h0m-21-5h0m47 9h0m15 3h0m14-3h0m145 4h0m5 0h0m4-5h0m28 2h0m-12 6h0m-13-1h0m-2 5h0m-6-2h0m-10 1h0m-6 2h0m-142-3h0m-4 2h0m-1-1h0m-1 1h0m-2-3h0m-1 0h0m-3 3h0m-2 0h0m-1-5h0m-22 1h0m-27-2h0m42 13h0m3-3h0m7 1h0m3-1h0m1 6h0m0-7h0m12 7h0m142-7h0m0 3h0m5-2h0m5 6h0m13-8h0m17 10h0m-32-2h0m-5 3h0m-10 0h0m-137 3h0m-2 1h0m-5 0h0m-8-2h0m-20 3h0m-6-8h0m-23 10h0m56-2h0m3 7h0m1-6h0m5 3h0m7 3h0m117 0h0m2 0h0m4-1h0m11-5h0m2-1h0m-21 14h0m-105-1h0m-18-5h0m29 11h0m9 4h0" stroke="#000" stroke-opacity="0.5" stroke-width="2.5" stroke-linecap="round"/>
<path transform="scale(0.5)" d="M914 173h0m-21 0h0m-12 3h0m-16-3h0m-2 1h0m-2 1h0m-1-2h0m-4 0h0m-5 0h0m-7 0h0m-2 3h0m-66-3h0m-24 0h0m-5 3h0m-19 0h0m-10 0h0m-19-4h0m-7 4h0m4 4h0m14-3h0m17 4h0m19-1h0m8 2h0m5-4h0m0 3h0m2-2h0m2 2h0m1-2h0m8-3h0m4 0h0m5 7h0m58-6h0m0 0h0m1 0h0m2 1h0m9 5h0m0 0h0m2-5h0m8 1h0m4 2h0m6 2h0m4-4h0m4-2h0m1 1h0m22 5h0m17-2h0m15 0h0m2-2h0m30 1h0m-7 12h0m-12-6h0m-17-2h0m-3 8h0m-16-3h0m-4-4h0m-4 1h0m-7 0h0m-15 3h0m-17-4h0m-9 6h0m-1-3h0m-11 4h0m-2-6h0m-58 3h0m-4 2h0m-3 1h0m0-7h0m-3 6h0m-2-3h0m-10 4h0m-1-3h0m-2-1h0m-16 1h0m0-5h0m-32 8h0m-15-3h0m-12-1h0m-59 0h0m-1-1h0m70 8h0m9-2h0m14 6h0m0-2h0m6 3h0m1-1h0m6-3h0m14 3h0m12-7h0m1 8h0m5-6h0m8 5h0m7-4h0m8 0h0m52-1h0m0 2h0m1 1h0m19 1h0m0 0h0m12-4h0m1 5h0m10 0h0m18 1h0m1-3h0m3 0h0m8-4h0m17 3h0m3 2h0m7-2h0m6 7h0m0-3h0m-12 6h0m-21 1h0m-1-5h0m-5 6h0m-1-7h0m-8 3h0m-2-1h0m-3 3h0m-2 1h0m-6-5h0m-3 2h0m-1-4h0m-2 5h0m-3-3h0m-10-1h0m-2 1h0m0 5h0m0-2h0m-5-4h0m-12 3h0m-5 4h0m-2-1h0m-67-5h0m-2 5h0m-2-5h0m-4 5h0m-1-6h0m-1 5h0m-7 0h0m-4 2h0m-5-6h0m-10 4h0m-3-6h0m-1 1h0m-2 6h0m-9-6h0m-20 3h0m-13 1h0m-20-4h0m53 13h0m1 0h0m11-6h0m4 2h0m1 4h0m15 1h0m3-3h0m1-2h0m1 2h0m3-3h0m1 6h0m6-3h0m3 0h0m3 1h0m2 3h0m10-5h0m55-1h0m33 3h0m1 2h0m5-1h0m2-2h0m0 2h0m9-1h0m2-2h0m7 1h0m0 3h0m6-3h0m4 0h0m8-3h0m9 3h0m36-2h0m4 6h0m2 3h0m-56 2h0m-1-2h0m-6 2h0m-3-1h0m-3 1h0m-5-2h0m-6 1h0m0-1h0m-12 0h0m-3 3h0m-1-3h0m-1-2h0m-1 2h0m-3-3h0m-29 2h0m-1 0h0m-46 4h0m-19-3h0m-10 2h0m-1 0h0m-1-4h0m-1 5h0m-10-5h0m-2 4h0m-5 3h0m-10-2h0m-3-5h0m-1 5h0m-1-1h0m0 0h0m-2-1h0m-1-3h0m0 4h0m-2-2h0m-8 1h0m-8-2h0m-8 12h0m11-4h0m5 1h0m3 4h0m10-1h0m2 0h0m12-4h0m1-1h0m5-1h0m5 2h0m3 5h0m6-2h0m5-3h0m27 2h0m43-1h0m53 4h0m0 0h0m1-1h0m5 1h0m1-3h0m1-1h0m9-2h0m0 2h0m1 0h0m3-1h0m17 4h0m24-6h0m-24 13h0m-16 0h0m0-4h0m-10 3h0m-7-3h0m-12 3h0m-1 1h0m-86-1h0m-41 1h0m-3-4h0m-1 0h0m-1 6h0m-2-3h0m-2-1h0m-4-1h0m-3-2h0m-13 7h0m-5-4h0m-12 10h0m8-5h0m5 2h0m5 1h0m13 4h0m149-1h0m0 2h0m7-2h0m3 0h0m1-3h0m2-3h0m4 8h0m29 2h0m-12 5h0m-9-2h0m-5-3h0m-4 1h0m-3 5h0m-4-5h0m-3-1h0m-9 6h0m-145-3h0m-2 2h0m-1-3h0m-7 2h0m-2-6h0m-4 0h0m-1 2h0m0-1h0m-18 6h0m-2-2h0m33 10h0m5-6h0m4 6h0m3 0h0m135 1h0m4-3h0m40 0h0m-36 5h0m-2 4h0m-1 1h0m-5-3h0m-138-4h0m-8 8h0m-8-8h0m-13 0h0m-2 2h0m23 10h0m5-2h0m2 0h0m8 4h0m4 0h0m112-2h0m2 1h0m3-2h0m1 1h0m3-3h0m9 0h0m42 2h0m-50 5h0m-4 3h0m-9-3h0m-5 4h0m-97 2h0m-4-4h0m16 10h0m5 1h0m66 4h0" stroke="#000" stroke-opacity="0.5" stroke-width="2.5" stroke-linecap="round"/>
<path transform="scale(0.5)" d="M927 175h0m-4-1h0m-16 1h0m-4-1h0m-36 0h0m-1 2h0m-13-3h0m-69 2h0m-20 0h0m-62-1h0m-1 1h0m-1-1h0m-72 0h0m67 8h0m0-6h0m5 5h0m43 0h0m11 3h0m17-4h0m5-2h0m5 2h0m1-4h0m1 4h0m58-3h0m2 3h0m1-2h0m2 1h0m2 3h0m2-4h0m6 0h0m1 4h0m8-1h0m5 1h0m4-3h0m1-1h0m1 0h0m2 5h0m4 1h0m0-5h0m4 1h0m1 2h0m7-6h0m15 4h0m1-1h0m9-2h0m16 1h0m13 8h0m-2 4h0m-12 1h0m-9-3h0m-4 3h0m-4-4h0m-6 1h0m-17 1h0m0 0h0m-1-3h0m-8 0h0m-1-2h0m-10 6h0m-11-5h0m-4 1h0m-2 4h0m0-1h0m-1 1h0m0-1h0m-3-4h0m-6 6h0m-5-1h0m-72-5h0m-1 3h0m-5 3h0m0-3h0m-1 2h0m-10-4h0m-2 5h0m-11-1h0m-38 2h0m-4-3h0m-35 7h0m21 3h0m13-5h0m13 5h0m4-2h0m11-2h0m19-1h0m6 4h0m3-5h0m14 1h0m1-1h0m1 4h0m3 1h0m2-4h0m10-2h0m54 1h0m5 3h0m1-2h0m5 2h0m1-2h0m5-1h0m4 2h0m5 0h0m3 4h0m4 0h0m11-4h0m2-2h0m3 0h0m1 5h0m1 2h0m15-5h0m0-2h0m0 1h0m5 0h0m5-1h0m15 4h0m68 5h0m-66 0h0m-2 5h0m-2 1h0m-7 0h0m-5-2h0m0-5h0m-9 5h0m-4 1h0m-15-3h0m-6 4h0m-1-3h0m0 1h0m-7-6h0m-2 1h0m-3 2h0m-1-3h0m-6 2h0m-8 0h0m-12 3h0m-3 1h0m-51 0h0m-4-3h0m-17 2h0m-10-1h0m-6 2h0m-1-2h0m-7-3h0m-6 2h0m0 2h0m-6 1h0m-5-2h0m-9 2h0m0 0h0m-40-5h0m16 12h0m18 2h0m11-3h0m7-1h0m6 2h0m7 2h0m9-1h0m0-6h0m0 0h0m2 0h0m0 0h0m7 7h0m7-6h0m0 3h0m0 3h0m1 0h0m1-1h0m4-1h0m9-4h0m3 1h0m3-2h0m0 2h0m1 6h0m82-7h0m6 7h0m6-3h0m1 1h0m0-4h0m5 3h0m0 0h0m2-1h0m4 3h0m1-7h0m2 4h0m1 1h0m3-3h0m1 0h0m0 3h0m8 2h0m29-4h0m23 4h0m22-2h0m-45 8h0m-17-2h0m-5-2h0m-6-1h0m-1 8h0m-12-1h0m-6-7h0m-2 5h0m-2 0h0m-1 2h0m-1 0h0m-10-5h0m-1 5h0m0-3h0m-7-3h0m-32 1h0m-2 0h0m-1 2h0m-63 0h0m-1-4h0m-5 0h0m-2 2h0m-4-1h0m-8 6h0m-5 1h0m-3-2h0m-4-2h0m-2 0h0m-12 2h0m-1-2h0m-4 0h0m-63 0h0m-12 9h0m70 1h0m4-1h0m4-1h0m4-3h0m1 6h0m1 0h0m15 0h0m6 0h0m5-4h0m1 2h0m3 1h0m2-4h0m7 1h0m23-3h0m41 6h0m40-5h0m2 1h0m13 1h0m5-3h0m17 1h0m23 5h0m7 8h0m-1-5h0m0 3h0m-13 4h0m0-2h0m-12-5h0m-9 0h0m-5 0h0m-1 0h0m-3 5h0m-6 1h0m-2-3h0m-55 0h0m-78-2h0m-1 0h0m-3 6h0m-6-1h0m-1-6h0m-4 1h0m-5 4h0m0-5h0m-7 0h0m0 5h0m-2-1h0m-4-4h0m-22 3h0m-7 1h0m-16-2h0m-4-2h0m-4 5h0m27 7h0m17-2h0m8 4h0m5-6h0m1 6h0m3-4h0m4 0h0m2-1h0m1-1h0m151 4h0m3 3h0m49-7h0m-40 12h0m-3-2h0m-1-1h0m-2 5h0m-5 0h0m-5-2h0m-144-1h0m-4-1h0m-10 1h0m-13-1h0m-9 5h0m30 6h0m1 0h0m6 2h0m143-1h0m0-4h0m4 2h0m0-2h0m3 0h0m13 0h0m2 0h0m12 3h0m4 3h0m-37 0h0m-2-1h0m-137 1h0m-11 4h0m-1-5h0m-1 5h0m-1 2h0m-14-3h0m-9 3h0m20 1h0m144 0h0m1 0h0m3 4h0m-12 6h0m-96 5h0m-3-1h0m-2 0h0m-14-4h0m19 6h0m75 8h0m-50 4h0" stroke="#000" stroke-opacity="0.5" stroke-width="2.5" stroke-linecap="round"/>
<path transform="scale(0.5)" d="M931 176h0m-5-1h0m-43-1h0m-2-1h0m-1 1h0m-32 0h0m-69 2h0m-3-2h0m-70 1h0m-39-2h0m-44 7h0m21 2h0m37-6h0m6 0h0m27 1h0m12 6h0m33-4h0m3 4h0m2-4h0m13 3h0m2-5h0m2 6h0m56 1h0m5-6h0m3 3h0m2 0h0m3 0h0m2-1h0m9 1h0m6 1h0m1 0h0m4 1h0m3-1h0m9-3h0m2 3h0m4-2h0m6 2h0m23-3h0m27 0h0m0 4h0m-4 6h0m-25-2h0m-8 2h0m-10 0h0m-2 1h0m-7 0h0m-19-2h0m0-1h0m-6 0h0m-4 1h0m-2 3h0m-2-3h0m-16 2h0m-2 2h0m-2-3h0m-54-4h0m-3 4h0m-3 0h0m-2-4h0m-5 0h0m-21 3h0m-4 2h0m-4-1h0m-11 2h0m-4 0h0m-2-2h0m-54-4h0m9 10h0m46 3h0m12-1h0m6 2h0m2 0h0m17 1h0m74-2h0m12-4h0m2 0h0m1 1h0m5 0h0m2 1h0m7-3h0m1 1h0m1-1h0m1 5h0m0 1h0m7-3h0m2 2h0m1-2h0m1-2h0m0 5h0m1-4h0m1 0h0m6 2h0m2 1h0m1-1h0m9 1h0m1-1h0m0-3h0m1 1h0m7-3h0m0 0h0m6 4h0m3 4h0m21 2h0m-19 2h0m0 1h0m-2-3h0m-9 2h0m-4-1h0m-3 2h0m-4 3h0m0-6h0m-5-2h0m-15 0h0m-12 4h0m-3 2h0m-3-6h0m-2 2h0m-1 5h0m0-1h0m-2 1h0m0-4h0m-13-1h0m-2 0h0m-2-1h0m-54 4h0m-7-1h0m-1-2h0m-2 4h0m-1 0h0m-1-5h0m-5 6h0m-4-6h0m-15 7h0m-3-2h0m0 0h0m-20 1h0m-6-2h0m-27 9h0m30-5h0m6 1h0m3 3h0m3 2h0m9-7h0m9 3h0m6 1h0m1 3h0m3-6h0m6 0h0m4 6h0m7-4h0m6-2h0m80 5h0m1-5h0m2 1h0m2-1h0m2 4h0m1-3h0m0 5h0m8-2h0m1-3h0m1 5h0m6-3h0m6-4h0m5 3h0m14 0h0m4 3h0m12-6h0m6 0h0m35 2h0m-27 11h0m-10-4h0m-4 1h0m-22-2h0m-4 3h0m-2 2h0m-1 1h0m-4-5h0m-1 4h0m-2-2h0m-5 0h0m-3 4h0m-4-6h0m-2 5h0m-46 2h0m-44-3h0m0-5h0m-17 3h0m-10-2h0m-2 4h0m-7 2h0m-8-6h0m-2 0h0m-14 7h0m0-1h0m-4-2h0m-7 2h0m0-1h0m-9 2h0m-5-6h0m-2 5h0m-6-5h0m5 10h0m11 1h0m7-5h0m5 3h0m3 5h0m5-4h0m2-1h0m3 3h0m3-1h0m2-3h0m0-1h0m4 1h0m1-2h0m12 5h0m3-4h0m1 0h0m28 4h0m82-1h0m0-3h0m1 0h0m3 2h0m0-1h0m9 0h0m4 5h0m2 0h0m1 1h0m0-4h0m4-1h0m2-3h0m4 2h0m4 0h0m56 4h0m5 5h0m-32 2h0m-18 2h0m-7-3h0m-1-2h0m-9 0h0m-3-2h0m-6 5h0m-5 0h0m-7 1h0m-1 2h0m-86-2h0m-46-2h0m-5-2h0m-12 5h0m-2-7h0m0 7h0m-2-1h0m-1-4h0m-4 1h0m-4 3h0m-4-5h0m-8 5h0m0 0h0m-3 9h0m15-6h0m17 5h0m16-4h0m43 0h0m0-2h0m93 2h0m4 3h0m6-3h0m0 3h0m1-1h0m4-1h0m3-1h0m4-2h0m33 5h0m-29 4h0m-16 0h0m-8 6h0m-2-4h0m-3 1h0m-55 0h0m-92-3h0m0 2h0m-4 4h0m-3-5h0m-3 3h0m-1-2h0m-4 3h0m-34-4h0m21 13h0m1-4h0m9 5h0m1-1h0m14-5h0m5 1h0m0 3h0m144-4h0m6 2h0m6 3h0m2-1h0m3-5h0m54 2h0m-61 6h0m-8 0h0m-1 2h0m-8 4h0m-1-1h0m-132 1h0m-1-3h0m-3-3h0m-1 7h0m-9-1h0m-1-1h0m-2 2h0m-19 1h0m36 3h0m8 3h0m4 0h0m113-2h0m7-4h0m3 0h0m-3 8h0m-6 0h0m-6-1h0m-5 5h0m-3 3h0m-94-3h0m-6-3h0m8 7h0m9 3h0m10 3h0m61-2h0m5-2h0m2-3h0" stroke="#000" stroke-opacity="0.5" stroke-width="2.5" stroke-linecap="round"/>
<path transform="scale(0.5)" d="M922 176h0m-3-3h0m-5-1h0m-7 3h0m-15 0h0m-1 0h0m-6 0h0m-2 0h0m-1-1h0m-13 0h0m-7 0h0m-2 1h0m-6-3h0m-3 2h0m-3 1h0m-148-1h0m-14-2h0m13 12h0m6-4h0m1 4h0m4-4h0m1 1h0m35-3h0m0 4h0m3 2h0m12-6h0m19 4h0m59 0h0m3-2h0m13-2h0m1 5h0m1-1h0m6-3h0m1 5h0m1-2h0m9 0h0m1-2h0m12 4h0m29-7h0m50 7h0m-40 8h0m-13-3h0m-10 2h0m-1-2h0m-6-5h0m-2 6h0m-5 0h0m-11-2h0m-14-3h0m-8-1h0m-70 5h0m-5-1h0m-2-3h0m-5 0h0m-8 2h0m-17 0h0m-18 2h0m-15-3h0m-5-1h0m-4 3h0m-5 0h0m-1-1h0m-4-2h0m-5 7h0m-26-6h0m-12 3h0m58 9h0m3-1h0m8 0h0m15 1h0m11 2h0m4 0h0m1-1h0m12-5h0m2-1h0m3-1h0m2 8h0m3-4h0m3 3h0m0-4h0m1 0h0m58-3h0m2 6h0m6-3h0m5-1h0m3 2h0m2-4h0m8 7h0m1 1h0m3 0h0m1-1h0m5-6h0m4 0h0m2 2h0m2-1h0m1-1h0m9 3h0m1-2h0m11 0h0m9 3h0m1-4h0m6 4h0m21 0h0m14 2h0m-26 8h0m-5-1h0m-1-6h0m-1 3h0m-12 3h0m-13-3h0m-1-3h0m-4 3h0m-2-1h0m-3 4h0m-2-3h0m-3-3h0m-6 0h0m-4 2h0m-1-1h0m-5 3h0m-1 4h0m-2-7h0m0 6h0m0-2h0m-1-3h0m-4-1h0m0 1h0m-4 0h0m-81 2h0m-2-3h0m-2 2h0m-7-2h0m-2 0h0m-9 2h0m-24 1h0m-12-1h0m-9 2h0m-9-1h0m-10-1h0m-24 6h0m30 1h0m13 6h0m11-1h0m3-1h0m6-3h0m5 4h0m1-4h0m0 4h0m7-3h0m2 3h0m1-3h0m2 0h0m2-2h0m2 3h0m6 1h0m13 1h0m4-6h0m7 2h0m3 0h0m4 1h0m2 2h0m75-3h0m1 1h0m15-2h0m1 0h0m3 5h0m14-3h0m3 3h0m5-5h0m5 5h0m6-4h0m9 1h0m4 0h0m3 1h0m11 1h0m8-5h0m6 3h0m-11 7h0m-4-1h0m-9-1h0m-23 5h0m-7 1h0m-3-1h0m0-5h0m-7-1h0m-1 0h0m-1 7h0m-8-6h0m-2 1h0m-3 2h0m-44 1h0m-45-3h0m-15 3h0m-12 0h0m-2-5h0m-2 1h0m-4 5h0m-2-4h0m-2-1h0m-1 6h0m-3-6h0m-5 3h0m-9 3h0m0-5h0m-22-1h0m-26 0h0m19 12h0m5 3h0m10-5h0m3 1h0m3-3h0m15 5h0m2-3h0m0 1h0m1 1h0m1-2h0m5 3h0m0 2h0m4-7h0m4 4h0m0-3h0m1 1h0m1 0h0m34-2h0m42 0h0m43 0h0m9-1h0m1 8h0m4-2h0m1-2h0m2 0h0m1-2h0m0 3h0m4-3h0m5 4h0m5-1h0m16 1h0m17 9h0m-35-5h0m-9 2h0m0-1h0m-10 4h0m-2-4h0m-4 2h0m-1 2h0m0-5h0m0 5h0m-88-4h0m-1-2h0m-38 2h0m-10-1h0m-1 1h0m-4 1h0m0 2h0m-1-2h0m-4 4h0m-11-3h0m-2-4h0m-4 5h0m-1-5h0m-1 7h0m-17-3h0m13 10h0m11-5h0m7 2h0m0-1h0m1 4h0m4-2h0m2 2h0m3-3h0m1 1h0m9-2h0m1 0h0m139 2h0m1 1h0m13 0h0m0-4h0m2 3h0m1-3h0m3 1h0m5-3h0m3 3h0m-1 6h0m-5 3h0m-7 3h0m-10-6h0m-4 2h0m-2 3h0m-59 0h0m-86-1h0m-6-4h0m-2 0h0m-2 0h0m-4 5h0m-1-5h0m-5 6h0m-1-6h0m-8 7h0m5 1h0m1 1h0m13 4h0m1 0h0m4-4h0m146-1h0m12 2h0m1-1h0m11 3h0m6-5h0m-14 14h0m-1-1h0m-10 1h0m-6-3h0m-141 5h0m-7-3h0m-7 2h0m-18-3h0m17 6h0m14 0h0m3 1h0m1 1h0m1 4h0m8-1h0m12 8h0m-3 1h0m-4-5h0m-11-2h0m-5 4h0m111 4h0m1 2h0m-65 8h0m-4-2h0" stroke="#000" stroke-opacity="0.5" stroke-width="2.5" stroke-linecap="round"/>
<path transform="scale(0.5)" d="M920 175h0m-27-2h0m-22 0h0m-9 2h0m-5-1h0m-2 1h0m-2 0h0m-2-2h0m-1 2h0m-2-3h0m-81 3h0m-8-2h0m-60 9h0m2 2h0m7-2h0m6 1h0m9 0h0m3-5h0m9 4h0m36-4h0m12 0h0m58 3h0m8 3h0m1 0h0m3-7h0m2 3h0m0-4h0m2 7h0m0-6h0m2 2h0m3 2h0m3 0h0m0-4h0m7 5h0m7-5h0m4 0h0m4 3h0m5 1h0m11-1h0m44 12h0m-47-1h0m-2-5h0m-10 5h0m-1-2h0m-5 0h0m-3 2h0m0-6h0m-15 0h0m-2 5h0m-2 1h0m0-5h0m-5 3h0m-12 2h0m-4-3h0m-1-3h0m-54 1h0m-10 4h0m-2-2h0m-4 1h0m-1 2h0m-4-2h0m0 1h0m-2-1h0m-1-3h0m0 6h0m-2-3h0m-1-2h0m-1 3h0m-31 0h0m-16 0h0m-12 6h0m2-3h0m0 6h0m12-7h0m7 1h0m8 3h0m30 4h0m4-2h0m2-2h0m10-1h0m1-1h0m0 1h0m4 1h0m1-2h0m2 5h0m4-7h0m55 7h0m1 0h0m9-5h0m3 3h0m1-2h0m2-1h0m3-2h0m4 3h0m2-3h0m5 4h0m4-2h0m5-1h0m3 0h0m2 3h0m4-3h0m13 2h0m5 2h0m4-1h0m5 2h0m17-5h0m2 0h0m2 2h0m20-2h0m15 9h0m-49 5h0m-6-6h0m-1 4h0m-15 0h0m-4 2h0m0 0h0m-5-1h0m-7 1h0m-7-5h0m-1 3h0m0 1h0m-7-2h0m-29-3h0m-1 6h0m-1-1h0m0-2h0m-1-2h0m-1-1h0m-50 2h0m-4 3h0m-2-5h0m0 2h0m-4 0h0m0 0h0m-9 0h0m-2 0h0m-1 0h0m-2-1h0m-6 6h0m0-5h0m-1-1h0m-12-1h0m-2 4h0m-8-5h0m-3 2h0m-2 5h0m-3 1h0m-5-1h0m-13-5h0m-63 4h0m37 8h0m31-3h0m2 3h0m0-4h0m2 4h0m7-2h0m1 1h0m22 3h0m1 0h0m1-3h0m2-5h0m3 4h0m6-1h0m3 0h0m2 5h0m0-7h0m5 1h0m1 6h0m1-4h0m1-1h0m1 0h0m10-1h0m2-1h0m1 2h0m1 3h0m51-3h0m0 0h0m1-2h0m15 2h0m10-2h0m2 4h0m2-3h0m2 1h0m1 4h0m18-3h0m0-4h0m3 6h0m3 0h0m6 2h0m4-6h0m5 4h0m2-3h0m4 0h0m18 0h0m0-3h0m48 5h0m-57 4h0m-4 1h0m-16 0h0m-11 0h0m-2 4h0m-3 0h0m-3-5h0m-5-1h0m-1 8h0m0-2h0m-2-6h0m-5 4h0m-1 4h0m-1-2h0m-1-1h0m-1-4h0m-2 0h0m-1-1h0m-97 5h0m0-4h0m-7 5h0m-1 0h0m-3-5h0m-4 2h0m0 4h0m-3-2h0m-1 0h0m-2 0h0m-8 0h0m-5 1h0m-3-2h0m-7 2h0m-2-3h0m-6 2h0m-6 2h0m-6-4h0m15 5h0m1 5h0m7 2h0m6-1h0m5-1h0m3-1h0m7 1h0m3-1h0m2 0h0m1-1h0m2 0h0m119-2h0m1 1h0m12-1h0m5 5h0m1-2h0m8 4h0m24 3h0m-19-2h0m-5 5h0m-5 0h0m-1 0h0m-8-1h0m0-3h0m-2 4h0m0-3h0m-4 5h0m-2-8h0m-88 3h0m-1-1h0m-41 4h0m-2-5h0m-2 1h0m-8 4h0m0-3h0m-5 2h0m0-3h0m-3 4h0m-13-1h0m-10 0h0m-37-1h0m-12 5h0m45 1h0m7 2h0m17 4h0m1-6h0m0 4h0m1-2h0m0-4h0m6 4h0m2 1h0m0 1h0m145-5h0m4 5h0m1-6h0m16 1h0m12 12h0m-17-2h0m-6 5h0m-5-5h0m-150 1h0m-6 1h0m-1-2h0m-4 1h0m-29 7h0m32 3h0m1-3h0m1 1h0m7-1h0m0 5h0m1-7h0m143 6h0m3-6h0m7 2h0m8 2h0m1-1h0m-25 9h0m-2 0h0m-134-4h0m-13 2h0m7 8h0m0 0h0m3-2h0m4-1h0m2 3h0m5 0h0m120 1h0m3-1h0m3 3h0m1-4h0m7 1h0m3 1h0m-23 6h0m-3 3h0m-8 2h0m-93-2h0m9 3h0m1 4h0m20 6h0" stroke="#000" stroke-opacity="0.5" stroke-width="2.5" stroke-linecap="round"/>
<path transform="scale(0.5)" d="M982 174h0m-41 2h0m-30-2h0m-14 0h0m-3 1h0m-4 1h0m-22-2h0m-1-1h0m-5 2h0m-3-1h0m-13-1h0m0 0h0m0 1h0m-8 1h0m-98 1h0m-14-2h0m-2 1h0m-73 0h0m20 7h0m13-2h0m35-3h0m18 1h0m5-1h0m3 1h0m18 5h0m6 0h0m9-3h0m64-1h0m5-2h0m6 5h0m0-2h0m3 3h0m9-1h0m1-6h0m4 7h0m4-5h0m2 3h0m10 2h0m2-4h0m1 4h0m2-1h0m5 0h0m3 1h0m5-3h0m7 0h0m6 0h0m1-1h0m55-2h0m-57 12h0m-1-4h0m-3 3h0m-5 0h0m-8-3h0m-1-1h0m-1 6h0m-10 2h0m0-2h0m-1-4h0m-9 1h0m-5 0h0m-4 4h0m-2-5h0m-1 5h0m-2-2h0m0-4h0m-3 2h0m-4-1h0m-1 6h0m-1-6h0m-1 2h0m-7 2h0m-6-3h0m-3 2h0m-54 2h0m-1-6h0m-1 2h0m-3-3h0m-1 4h0m-2-1h0m-3 4h0m-13-6h0m-15 2h0m-17 2h0m-19 2h0m-22 6h0m15 0h0m5-4h0m26 0h0m6 0h0m13 2h0m8 1h0m3-1h0m3 3h0m4-5h0m2 4h0m1 3h0m1 0h0m3-7h0m7 0h0m0 5h0m3-5h0m1 5h0m51-5h0m2 3h0m0-1h0m14 2h0m1-3h0m2 1h0m3-1h0m0 0h0m7 1h0m3 5h0m4-2h0m1-1h0m2-5h0m7 4h0m28 1h0m0-3h0m1 2h0m4 1h0m3-1h0m19 4h0m23-7h0m38 2h0m-47 12h0m-27-4h0m-12 3h0m-11-3h0m-1 1h0m-10 0h0m-7 4h0m-7-2h0m-5-1h0m-9 3h0m-8-3h0m-4-4h0m-8 5h0m-4-4h0m-56 0h0m-11 2h0m-6 1h0m-3 2h0m-4-3h0m-2-2h0m-2 4h0m0-4h0m-4-1h0m-7 1h0m-2-1h0m0 6h0m-11-5h0m-1 0h0m0 0h0m0 4h0m-4-4h0m-17 5h0m-2-1h0m-4 2h0m-20 0h0m-27 4h0m45 2h0m9-4h0m10 5h0m7-2h0m0-1h0m1 2h0m3 0h0m4-3h0m0 4h0m1-3h0m25 3h0m1-4h0m3 2h0m6 1h0m9-6h0m2 0h0m54 3h0m42 2h0m4-4h0m6 6h0m1-6h0m10 5h0m1 2h0m1 0h0m4-4h0m2 3h0m4-6h0m1 3h0m14 2h0m3-4h0m13-1h0m38 3h0m-72 9h0m-13 0h0m-4-5h0m-2 1h0m-3 0h0m-9 1h0m-3 1h0m-4-1h0m-35 0h0m-72 0h0m0 0h0m-1-2h0m-4 5h0m-4 1h0m-2-2h0m-8-2h0m-2 0h0m-5 1h0m0-1h0m-4-2h0m-11 7h0m-5-2h0m-11 2h0m-26 6h0m18-3h0m26 5h0m3-4h0m0 0h0m0 1h0m2-2h0m3 5h0m5-4h0m5 3h0m2-2h0m2-3h0m3-1h0m8 5h0m9-2h0m24 4h0m85-5h0m10 5h0m0-1h0m6 1h0m1-6h0m12 2h0m1 3h0m19-1h0m-13 7h0m-8 2h0m-3 1h0m-10-1h0m0-6h0m-1 6h0m0-4h0m-3 3h0m-6-4h0m-51 5h0m-39-6h0m-46 3h0m-6 2h0m-1 0h0m-1 0h0m-2-4h0m-2 4h0m-1 3h0m-9 0h0m-1-1h0m-7-2h0m-36 2h0m-7-2h0m22 6h0m8 1h0m8-3h0m8-1h0m1 7h0m3-2h0m7-4h0m0 2h0m3-3h0m2 7h0m0 1h0m1-3h0m151-4h0m2 0h0m2-1h0m0 5h0m2 2h0m2-5h0m5 3h0m1-1h0m74 6h0m-40 2h0m-14-2h0m-15 1h0m-3 1h0m-2-1h0m-2 2h0m-1 0h0m-1 2h0m-4-2h0m-3-3h0m-3 2h0m-1-2h0m-144 2h0m-1-1h0m-3 4h0m-1-1h0m-6 1h0m-8 1h0m-4-7h0m6 8h0m20 6h0m143-6h0m19 0h0m-19 8h0m0 3h0m-1-3h0m-3 2h0m-140-1h0m-3-2h0m0 2h0m-10 4h0m-9-4h0m-4 7h0m13-1h0m8 3h0m11 4h0m120-5h0m-13 11h0m0-1h0m-1 1h0m-98-2h0m-1 0h0m11 6h0m10 5h0m3 1h0m59 1h0m9-5h0m-9 6h0" stroke="#000" stroke-opacity="0.5" stroke-width="2.5" stroke-linecap="round"/>
<path transform="scale(0.5)" d="M888 174h0m-3 1h0m-2 1h0m-2 0h0m-1-2h0m-5 1h0m-4-2h0m-1 0h0m-6 2h0m-4-2h0m-12 1h0m0-1h0m-95 0h0m-51 9h0m2-3h0m0 3h0m32-3h0m13 4h0m4-3h0m8 4h0m8-6h0m1 5h0m7-3h0m63-2h0m4 2h0m0 0h0m1 4h0m2-1h0m2 0h0m2-6h0m2 2h0m1-2h0m1 2h0m3 3h0m2-1h0m5-1h0m7-2h0m9 6h0m0-3h0m8-3h0m7 0h0m1-1h0m16 4h0m0-1h0m13-4h0m62 6h0m-57 6h0m-6 3h0m-1-6h0m-18 3h0m-3 1h0m-7-4h0m-13 2h0m-3 5h0m-2-7h0m-5 0h0m-3 0h0m-2 1h0m-3 1h0m-5-1h0m0 2h0m0 2h0m-1-1h0m-12 2h0m-1 0h0m-4-1h0m-62-4h0m-1 4h0m-6 0h0m-5-1h0m-2-4h0m-1 0h0m-7 1h0m-12 2h0m-3-1h0m-24 2h0m-7-4h0m-3 2h0m-14-1h0m-39-1h0m56 13h0m13 1h0m10-1h0m0-4h0m7 3h0m14-1h0m4 0h0m2-4h0m4 6h0m1 0h0m2-5h0m10-1h0m7 6h0m51-3h0m6 1h0m9 1h0m4-2h0m6 1h0m0-1h0m5 1h0m7 3h0m11-2h0m0-4h0m6 2h0m32 0h0m8 4h0m44-3h0m-9 9h0m-5 0h0m-4-1h0m-42 0h0m-4 1h0m-1-3h0m0-1h0m-2 2h0m-2 1h0m-4 0h0m-4-4h0m-4 1h0m-8 3h0m-4-2h0m-2 6h0m-2-6h0m-5 0h0m-1 3h0m0 1h0m0-2h0m-7 2h0m-1 0h0m-1-6h0m-1 5h0m0 2h0m-1-1h0m0-4h0m-4 2h0m-2 2h0m-12-2h0m-6 2h0m0-4h0m-51 0h0m-2 2h0m-1 2h0m-16-2h0m-1 2h0m-2-1h0m-2 0h0m-20 1h0m-2 0h0m-1-6h0m-9 2h0m-1-2h0m-3 0h0m-42 4h0m-18-1h0m9 6h0m33 1h0m1 4h0m0-1h0m5 3h0m4 0h0m3-3h0m3 3h0m0 0h0m1 0h0m1-5h0m0-3h0m9 4h0m3-3h0m3 6h0m16-1h0m1-3h0m1 4h0m4 0h0m5-2h0m2-4h0m2 6h0m15 1h0m48-1h0m19-5h0m9 0h0m1 1h0m6 2h0m1-4h0m4 7h0m1-2h0m3-5h0m8 4h0m0 3h0m9 0h0m1-5h0m9 0h0m10-2h0m3 2h0m13 5h0m11-1h0m10 6h0m-22 2h0m-19-1h0m-11 0h0m-8-3h0m-3-1h0m-5 4h0m-1-5h0m-6 1h0m-2 0h0m-6 4h0m-3-5h0m-5 2h0m-2-1h0m-71 3h0m-25 0h0m-12-3h0m0 3h0m-4-4h0m-10 1h0m-2-2h0m-3 5h0m-4 1h0m-1 0h0m-4-4h0m-3-1h0m0 0h0m-3 4h0m-12 1h0m-4 9h0m7-2h0m12-3h0m2 3h0m7 0h0m3 0h0m0 0h0m0-2h0m1-2h0m1 3h0m10 0h0m2 2h0m3-2h0m10-2h0m0-1h0m112 5h0m17-1h0m3-5h0m3 3h0m1-1h0m1 3h0m3 0h0m3 0h0m2 3h0m24 0h0m-6 2h0m-1-1h0m-16 4h0m-3-3h0m-19 2h0m-1-4h0m-1 1h0m-129 4h0m-3 2h0m-2-1h0m-2-2h0m-3 4h0m-1-4h0m-4-2h0m-5 2h0m-11 4h0m-4-7h0m-4 7h0m-11-1h0m-26 0h0m35 6h0m3 3h0m11-4h0m5 1h0m0 0h0m1-2h0m158 4h0m0-5h0m5-2h0m31 3h0m-23 8h0m-9-1h0m-3 0h0m0 3h0m-152-3h0m-5 4h0m-2-3h0m-19 1h0m-18-4h0m-3 5h0m-10 1h0m23 4h0m20-1h0m5 1h0m1 3h0m4-3h0m9 5h0m138 0h0m5-3h0m1-1h0m2 1h0m22 7h0m-19-2h0m-7 1h0m-1 1h0m-2 2h0m-3 1h0m-140-2h0m-2-2h0m-8 1h0m-13 2h0m4 7h0m12-3h0m6 0h0m1 3h0m4-1h0m8 4h0m115 1h0m0-2h0m3-1h0m1 3h0m4-2h0m9 1h0m-24 7h0m-1-3h0m-100 1h0m-9-1h0m-2-2h0m21 8h0m71 6h0m6-4h0" stroke="#000" stroke-opacity="0.5" stroke-width="2.5" stroke-linecap="round"/>
<path transform="scale(0.5)" d="M1026 44h0m-127 1h0m-7 1h0m-4-5h0m-19 0h0m-2 4h0m-134 7h0m134-2h0m47 1h0m-42 7h0m-5 0h0m0 3h0m-7 2h0m-8-6h0m-86 7h0m-2-7h0m-43 3h0m40 9h0m10 2h0m81-6h0m1 5h0m17-1h0m7 0h0m51 4h0m-60 3h0m-9 3h0m0-3h0m-4-1h0m-108 5h0m-26-1h0m44 6h0m5-1h0m3-4h0m75 7h0m12-2h0m3 2h0m5-4h0m36 5h0m48 0h0m-5 2h0m-52 4h0m-2-2h0m-6 4h0m-12-4h0m-7-1h0m-2 2h0m-3-5h0m-12 7h0m-84-4h0m-24-2h0m-11-1h0m-11 0h0m54 12h0m71 3h0m4-4h0m0 3h0m4 1h0m1-2h0m5-2h0m1-2h0m3-1h0m35 5h0m19 1h0m37 1h0m1-2h0m14-1h0m-36 12h0m-32-1h0m-8-3h0m-1 0h0m-2-4h0m-15 1h0m-5 6h0m-8-7h0m-6 5h0m-5 2h0m-1-1h0m-3-1h0m-103-3h0m-70-1h0m46 7h0m21 2h0m3 2h0m12-3h0m1 6h0m9-2h0m4 2h0m1-6h0m76 4h0m4 0h0m1-1h0m3-4h0m4 7h0m5-6h0m9 7h0m2-4h0m49 0h0m32 8h0m-21-2h0m-19 0h0m-21 2h0m-10 1h0m-13-3h0m-7 0h0m-7 2h0m-6-3h0m-3 1h0m-82-1h0m0 6h0m-2-2h0m-5-5h0m-3 6h0m-10-6h0m-32 1h0m0 4h0m-15 0h0m-42 1h0m-17 4h0m84 3h0m28-4h0m3 6h0m3-2h0m18 2h0m66 1h0m3-4h0m0-2h0m5-1h0m2 2h0m1-2h0m1 3h0m7-1h0m8 4h0m3-3h0m3-4h0m3 5h0m9-2h0m10-2h0m19 6h0m6-5h0m9 12h0m-23 0h0m-7-4h0m-11 1h0m-14 4h0m-3 0h0m0-2h0m-3 1h0m-4-5h0m-1-1h0m-10 3h0m-1 3h0m-2-4h0m-1 0h0m-2 5h0m0-6h0m-2 6h0m-1 0h0m-69-1h0m-3-6h0m-1 2h0m-5 4h0m-5-4h0m-1-1h0m-1 4h0m-15-2h0m-18 1h0m-4-4h0m-2 6h0m-21 1h0m3 6h0m41-3h0m19 4h0m4 1h0m12 0h0m2-7h0m61 5h0m1-3h0m0 4h0m1 1h0m0-4h0m1 2h0m1-2h0m2 3h0m3-1h0m0-5h0m3 2h0m4-1h0m1 5h0m2 0h0m3-2h0m1-4h0m2 4h0m6 1h0m0 1h0m4-4h0m3 6h0m14-8h0m2 4h0m2 1h0m5 0h0m11-2h0m11 5h0m6-7h0m-20 7h0m-3 1h0m-2 4h0m-3 1h0m-4 1h0m-2-3h0m-3-4h0m-2 6h0m-1-4h0m-3 2h0m-8 0h0m-4-2h0m-1 1h0m-9 2h0m-3-3h0m-7 6h0m0-6h0m-3-2h0m0 1h0m-1 2h0m-1 5h0m-5-3h0m-4-1h0m-3 0h0m-61 1h0m-15-2h0m0-3h0m-4 6h0m-11-3h0m-18-3h0m-4 3h0m-17 2h0m-19 1h0m-93 9h0m122-5h0m7 1h0m20 2h0m11 1h0m10 1h0m1-3h0m4-3h0m0 4h0m3-1h0m2-2h0m0 2h0m65-3h0m2 0h0m1 6h0m1-7h0m2 3h0m8-1h0m7 5h0m2-1h0m4-3h0m4-1h0m5 0h0m0 3h0m1-4h0m9 2h0m2 2h0m8-3h0m1 6h0m7 0h0m1-6h0m6 6h0m4-6h0m1 5h0m12 0h0m17-2h0m20 0h0m3 0h0m42 0h0m-106 3h0m-22 2h0m-2 1h0m-12-1h0m-5 2h0m-5-1h0m-1-2h0m-4 2h0m-1 0h0m-3-1h0m0-2h0m0 0h0m-1 3h0m-5-3h0m-1 4h0m-1-2h0m0-1h0m-1 0h0m-1 1h0m-5 0h0m-56 2h0m-1-3h0m-6 1h0m-7-2h0m-6 4h0m-22-1h0" stroke="#000" stroke-opacity="0.95" stroke-width="3.3" stroke-linecap="round"/>
<line x1="292.50" y1="86.20" x2="518.00" y2="86.20" stroke="#222" stroke-width="0.6" stroke-dasharray="1.6 1.2"/>
<text x="314.90" y="45.90" font-size="4.6" text-anchor="middle" fill="#e0303c" stroke="#e0303c" stroke-width="0.138">AQP3</text>
<circle cx="318.50" cy="48.20" r="0.75" fill="#c0202a"/>
<text x="338.30" y="45.60" font-size="4.6" text-anchor="middle" fill="#e0303c" stroke="#e0303c" stroke-width="0.138">HOPX</text>
<circle cx="345.00" cy="47.40" r="0.75" fill="#c0202a"/>
<text x="355.00" y="45.60" font-size="4.6" text-anchor="middle" fill="#e0303c" stroke="#e0303c" stroke-width="0.138">NKX2-1</text>
<circle cx="349.20" cy="47.70" r="0.75" fill="#c0202a"/>
<text x="325.40" y="53.00" font-size="4.6" text-anchor="middle" fill="#e0303c" stroke="#e0303c" stroke-width="0.138">SELENBP1</text>
<circle cx="339.60" cy="51.20" r="0.75" fill="#c0202a"/>
<text x="336.00" y="60.60" font-size="4.6" text-anchor="middle" fill="#e0303c" stroke="#e0303c" stroke-width="0.138">ROS1</text>
<circle cx="332.00" cy="55.00" r="0.75" fill="#c0202a"/>
<text x="304.80" y="79.80" font-size="4.6" text-anchor="middle" fill="#e0303c" stroke="#e0303c" stroke-width="0.138">SFTA2</text>
<circle cx="310.40" cy="74.60" r="0.75" fill="#c0202a"/>
<text x="331.80" y="75.80" font-size="4.6" text-anchor="middle" fill="#e0303c" stroke="#e0303c" stroke-width="0.138">SFTA3</text>
<circle cx="337.30" cy="77.70" r="0.75" fill="#c0202a"/>
<text x="351.20" y="80.10" font-size="4.6" text-anchor="middle" fill="#e0303c" stroke="#e0303c" stroke-width="0.138">HNF1B</text>
<circle cx="357.30" cy="75.40" r="0.75" fill="#c0202a"/>
<text x="352.30" y="89.00" font-size="4.6" text-anchor="middle" fill="#e0303c" stroke="#e0303c" stroke-width="0.138">CHEAP</text>
<circle cx="350.50" cy="90.00" r="0.75" fill="#c0202a"/>
<text x="309.90" y="93.40" font-size="4.6" text-anchor="middle" fill="#e0303c" stroke="#e0303c" stroke-width="0.138">NAPSA</text>
<circle cx="304.50" cy="94.60" r="0.75" fill="#c0202a"/>
<text x="486.00" y="44.80" font-size="4.6" text-anchor="middle" fill="#e0303c" stroke="#e0303c" stroke-width="0.138">KYNU</text>
<circle cx="491.00" cy="39.20" r="0.75" fill="#c0202a"/>
<text x="0.15" y="225.70" font-size="14.8" font-weight="bold">C</text>
<line x1="34.50" y1="322.50" x2="142.50" y2="322.50" stroke="#ececec" stroke-width="0.4"/>
<line x1="34.50" y1="305.70" x2="142.50" y2="305.70" stroke="#f5f5f5" stroke-width="0.4"/>
<line x1="34.50" y1="288.90" x2="142.50" y2="288.90" stroke="#ececec" stroke-width="0.4"/>
<line x1="34.50" y1="272.10" x2="142.50" y2="272.10" stroke="#f5f5f5" stroke-width="0.4"/>
<line x1="34.50" y1="255.30" x2="142.50" y2="255.30" stroke="#ececec" stroke-width="0.4"/>
<line x1="34.50" y1="238.50" x2="142.50" y2="238.50" stroke="#f5f5f5" stroke-width="0.4"/>
<line x1="48.00" y1="228.00" x2="48.00" y2="323.00" stroke="#f5f5f5" stroke-width="0.4"/>
<line x1="61.50" y1="228.00" x2="61.50" y2="323.00" stroke="#ececec" stroke-width="0.4"/>
<line x1="75.00" y1="228.00" x2="75.00" y2="323.00" stroke="#f5f5f5" stroke-width="0.4"/>
<line x1="88.50" y1="228.00" x2="88.50" y2="323.00" stroke="#ececec" stroke-width="0.4"/>
<line x1="102.00" y1="228.00" x2="102.00" y2="323.00" stroke="#f5f5f5" stroke-width="0.4"/>
<line x1="115.50" y1="228.00" x2="115.50" y2="323.00" stroke="#ececec" stroke-width="0.4"/>
<line x1="129.00" y1="228.00" x2="129.00" y2="323.00" stroke="#f5f5f5" stroke-width="0.4"/>
<line x1="142.50" y1="228.00" x2="142.50" y2="323.00" stroke="#ececec" stroke-width="0.4"/>
<line x1="34.50" y1="228.00" x2="34.50" y2="323.00" stroke="#555" stroke-width="0.6"/>
<line x1="34.50" y1="323.00" x2="143.50" y2="323.00" stroke="#555" stroke-width="0.6"/>
<line x1="34.50" y1="323.00" x2="34.50" y2="325.00" stroke="#555" stroke-width="0.5"/>
<text transform="translate(39.80,327.90) rotate(-45)" font-size="5.3" text-anchor="end" fill="#444" stroke="#444" stroke-width="0.15">0.00</text>
<line x1="61.50" y1="323.00" x2="61.50" y2="325.00" stroke="#555" stroke-width="0.5"/>
<text transform="translate(66.80,327.90) rotate(-45)" font-size="5.3" text-anchor="end" fill="#444" stroke="#444" stroke-width="0.15">0.25</text>
<line x1="88.50" y1="323.00" x2="88.50" y2="325.00" stroke="#555" stroke-width="0.5"/>
<text transform="translate(93.80,327.90) rotate(-45)" font-size="5.3" text-anchor="end" fill="#444" stroke="#444" stroke-width="0.15">0.50</text>
<line x1="115.50" y1="323.00" x2="115.50" y2="325.00" stroke="#555" stroke-width="0.5"/>
<text transform="translate(120.80,327.90) rotate(-45)" font-size="5.3" text-anchor="end" fill="#444" stroke="#444" stroke-width="0.15">0.75</text>
<line x1="142.50" y1="323.00" x2="142.50" y2="325.00" stroke="#555" stroke-width="0.5"/>
<text transform="translate(147.80,327.90) rotate(-45)" font-size="5.3" text-anchor="end" fill="#444" stroke="#444" stroke-width="0.15">1.00</text>
<text x="89.30" y="226.00" font-size="7.3" text-anchor="middle" fill="#222" stroke="#222" stroke-width="0.219">T790M<tspan dy="-2.8" font-size="5.6">+</tspan></text>
<line x1="154.30" y1="322.50" x2="262.30" y2="322.50" stroke="#ececec" stroke-width="0.4"/>
<line x1="154.30" y1="305.70" x2="262.30" y2="305.70" stroke="#f5f5f5" stroke-width="0.4"/>
<line x1="154.30" y1="288.90" x2="262.30" y2="288.90" stroke="#ececec" stroke-width="0.4"/>
<line x1="154.30" y1="272.10" x2="262.30" y2="272.10" stroke="#f5f5f5" stroke-width="0.4"/>
<line x1="154.30" y1="255.30" x2="262.30" y2="255.30" stroke="#ececec" stroke-width="0.4"/>
<line x1="154.30" y1="238.50" x2="262.30" y2="238.50" stroke="#f5f5f5" stroke-width="0.4"/>
<line x1="167.80" y1="228.00" x2="167.80" y2="323.00" stroke="#f5f5f5" stroke-width="0.4"/>
<line x1="181.30" y1="228.00" x2="181.30" y2="323.00" stroke="#ececec" stroke-width="0.4"/>
<line x1="194.80" y1="228.00" x2="194.80" y2="323.00" stroke="#f5f5f5" stroke-width="0.4"/>
<line x1="208.30" y1="228.00" x2="208.30" y2="323.00" stroke="#ececec" stroke-width="0.4"/>
<line x1="221.80" y1="228.00" x2="221.80" y2="323.00" stroke="#f5f5f5" stroke-width="0.4"/>
<line x1="235.30" y1="228.00" x2="235.30" y2="323.00" stroke="#ececec" stroke-width="0.4"/>
<line x1="248.80" y1="228.00" x2="248.80" y2="323.00" stroke="#f5f5f5" stroke-width="0.4"/>
<line x1="262.30" y1="228.00" x2="262.30" y2="323.00" stroke="#ececec" stroke-width="0.4"/>
<line x1="154.30" y1="228.00" x2="154.30" y2="323.00" stroke="#555" stroke-width="0.6"/>
<line x1="154.30" y1="323.00" x2="263.30" y2="323.00" stroke="#555" stroke-width="0.6"/>
<line x1="154.30" y1="323.00" x2="154.30" y2="325.00" stroke="#555" stroke-width="0.5"/>
<text transform="translate(159.60,327.90) rotate(-45)" font-size="5.3" text-anchor="end" fill="#444" stroke="#444" stroke-width="0.15">0.00</text>
<line x1="181.30" y1="323.00" x2="181.30" y2="325.00" stroke="#555" stroke-width="0.5"/>
<text transform="translate(186.60,327.90) rotate(-45)" font-size="5.3" text-anchor="end" fill="#444" stroke="#444" stroke-width="0.15">0.25</text>
<line x1="208.30" y1="323.00" x2="208.30" y2="325.00" stroke="#555" stroke-width="0.5"/>
<text transform="translate(213.60,327.90) rotate(-45)" font-size="5.3" text-anchor="end" fill="#444" stroke="#444" stroke-width="0.15">0.50</text>
<line x1="235.30" y1="323.00" x2="235.30" y2="325.00" stroke="#555" stroke-width="0.5"/>
<text transform="translate(240.60,327.90) rotate(-45)" font-size="5.3" text-anchor="end" fill="#444" stroke="#444" stroke-width="0.15">0.75</text>
<line x1="262.30" y1="323.00" x2="262.30" y2="325.00" stroke="#555" stroke-width="0.5"/>
<text transform="translate(267.60,327.90) rotate(-45)" font-size="5.3" text-anchor="end" fill="#444" stroke="#444" stroke-width="0.15">1.00</text>
<text x="209.10" y="226.00" font-size="7.3" text-anchor="middle" fill="#222" stroke="#222" stroke-width="0.219">T790M<tspan dy="-2.8" font-size="5.6">−</tspan></text>
<line x1="32.30" y1="322.50" x2="34.50" y2="322.50" stroke="#555" stroke-width="0.5"/>
<text x="31.60" y="324.30" font-size="5.2" text-anchor="end" fill="#444" stroke="#444" stroke-width="0.156">0</text>
<line x1="32.30" y1="288.90" x2="34.50" y2="288.90" stroke="#555" stroke-width="0.5"/>
<text x="31.60" y="290.70" font-size="5.2" text-anchor="end" fill="#444" stroke="#444" stroke-width="0.156">5</text>
<line x1="32.30" y1="255.30" x2="34.50" y2="255.30" stroke="#555" stroke-width="0.5"/>
<text x="31.60" y="257.10" font-size="5.2" text-anchor="end" fill="#444" stroke="#444" stroke-width="0.156">10</text>
<text transform="translate(21.40,281.00) rotate(-90)" font-size="6.2" text-anchor="middle" textLength="107" lengthAdjust="spacingAndGlyphs" fill="#222" stroke="#222" stroke-width="0.186">NAPSA expression (Log<tspan font-size="4.4" dy="1.3">2</tspan><tspan dy="-1.3">(FPKM + 1))</tspan></text>
<text x="148.50" y="346.20" font-size="7.0" text-anchor="middle" fill="#222" stroke="#222" stroke-width="0.210">Tumor purity</text>
<line x1="34.50" y1="255.00" x2="34.50" y2="291.00" stroke="#c43050" stroke-width="0.9"/>
<line x1="142.50" y1="238.50" x2="142.50" y2="269.10" stroke="#c43050" stroke-width="0.8"/>
<line x1="34.50" y1="269.30" x2="142.50" y2="256.60" stroke="#333" stroke-width="0.75"/>
<circle cx="34.50" cy="269.30" r="1.1" fill="#333"/>
<circle cx="142.50" cy="256.60" r="1.1" fill="#333"/>
<circle cx="64.40" cy="259.30" r="1.9" fill="#ec8a80" fill-opacity="0.9"/>
<circle cx="75.20" cy="257.60" r="1.9" fill="#ec8a80" fill-opacity="0.9"/>
<circle cx="88.40" cy="242.80" r="1.9" fill="#ec8a80" fill-opacity="0.9"/>
<circle cx="94.40" cy="251.30" r="1.9" fill="#ec8a80" fill-opacity="0.9"/>
<circle cx="96.00" cy="254.60" r="1.9" fill="#ec8a80" fill-opacity="0.9"/>
<circle cx="91.30" cy="256.90" r="1.9" fill="#ec8a80" fill-opacity="0.9"/>
<circle cx="91.10" cy="259.30" r="1.9" fill="#ec8a80" fill-opacity="0.9"/>
<circle cx="101.80" cy="256.60" r="1.9" fill="#ec8a80" fill-opacity="0.9"/>
<circle cx="104.50" cy="252.90" r="1.9" fill="#ec8a80" fill-opacity="0.9"/>
<circle cx="105.50" cy="251.30" r="1.9" fill="#ec8a80" fill-opacity="0.9"/>
<circle cx="111.50" cy="246.20" r="1.9" fill="#ec8a80" fill-opacity="0.9"/>
<circle cx="113.50" cy="244.10" r="1.9" fill="#ec8a80" fill-opacity="0.9"/>
<circle cx="73.60" cy="264.50" r="1.9" fill="#ec8a80" fill-opacity="0.9"/>
<circle cx="69.10" cy="268.40" r="1.9" fill="#ec8a80" fill-opacity="0.9"/>
<circle cx="71.80" cy="269.00" r="1.9" fill="#ec8a80" fill-opacity="0.9"/>
<circle cx="70.50" cy="272.00" r="1.9" fill="#ec8a80" fill-opacity="0.9"/>
<circle cx="73.20" cy="271.00" r="1.9" fill="#ec8a80" fill-opacity="0.9"/>
<circle cx="83.30" cy="271.70" r="1.9" fill="#ec8a80" fill-opacity="0.9"/>
<circle cx="77.60" cy="278.50" r="1.9" fill="#ec8a80" fill-opacity="0.9"/>
<circle cx="97.80" cy="265.40" r="1.9" fill="#ec8a80" fill-opacity="0.9"/>
<circle cx="105.10" cy="269.30" r="1.9" fill="#ec8a80" fill-opacity="0.9"/>
<circle cx="104.80" cy="281.40" r="1.9" fill="#ec8a80" fill-opacity="0.9"/>
<circle cx="113.90" cy="277.10" r="1.9" fill="#ec8a80" fill-opacity="0.9"/>
<circle cx="116.90" cy="275.10" r="1.9" fill="#ec8a80" fill-opacity="0.9"/>
<text x="36.30" y="278.40" font-size="5.3" fill="#222" stroke="#222" stroke-width="0.159">Stroma: 7.9</text>
<text x="141.50" y="254.00" font-size="5.3" text-anchor="end" fill="#222" stroke="#222" stroke-width="0.159">Cancer: 9.8</text>
<line x1="154.30" y1="229.60" x2="154.30" y2="281.50" stroke="#c43050" stroke-width="0.9"/>
<line x1="262.30" y1="290.80" x2="262.30" y2="322.00" stroke="#c43050" stroke-width="0.8"/>
<line x1="154.30" y1="256.80" x2="262.30" y2="322.50" stroke="#333" stroke-width="0.75"/>
<circle cx="154.30" cy="256.80" r="1.1" fill="#333"/>
<circle cx="262.30" cy="322.50" r="1.1" fill="#333"/>
<circle cx="192.20" cy="260.10" r="1.9" fill="#35bdbd" fill-opacity="0.9"/>
<circle cx="192.00" cy="270.00" r="1.9" fill="#35bdbd" fill-opacity="0.9"/>
<circle cx="182.30" cy="273.90" r="1.9" fill="#35bdbd" fill-opacity="0.9"/>
<circle cx="194.50" cy="276.90" r="1.9" fill="#35bdbd" fill-opacity="0.9"/>
<circle cx="197.80" cy="275.50" r="1.9" fill="#35bdbd" fill-opacity="0.9"/>
<circle cx="201.90" cy="288.50" r="1.9" fill="#35bdbd" fill-opacity="0.9"/>
<circle cx="211.80" cy="300.70" r="1.9" fill="#35bdbd" fill-opacity="0.9"/>
<circle cx="211.60" cy="312.20" r="1.9" fill="#35bdbd" fill-opacity="0.9"/>
<circle cx="216.90" cy="315.00" r="1.9" fill="#35bdbd" fill-opacity="0.9"/>
<text x="155.20" y="255.00" font-size="5.3" fill="#222" stroke="#222" stroke-width="0.159">Stroma: 9.9</text>
<text x="260.80" y="303.00" font-size="5.3" text-anchor="end" fill="#222" stroke="#222" stroke-width="0.159">Cancer: 0</text>
<text x="-0.10" y="372.80" font-size="14.8" font-weight="bold">E</text>
<text x="145.60" y="372.20" font-size="7.1" text-anchor="middle" fill="#222" stroke="#222" stroke-width="0.213">Expression of lung adenocarcinoma markers in cancer cells</text>
<line x1="23.10" y1="493.60" x2="75.90" y2="493.60" stroke="#e6e6e6" stroke-width="0.45"/>
<line x1="23.10" y1="456.40" x2="75.90" y2="456.40" stroke="#e6e6e6" stroke-width="0.45"/>
<line x1="23.10" y1="419.20" x2="75.90" y2="419.20" stroke="#e6e6e6" stroke-width="0.45"/>
<line x1="23.10" y1="475.00" x2="75.90" y2="475.00" stroke="#f5f5f5" stroke-width="0.4"/>
<line x1="23.10" y1="437.80" x2="75.90" y2="437.80" stroke="#f5f5f5" stroke-width="0.4"/>
<line x1="23.10" y1="400.60" x2="75.90" y2="400.60" stroke="#f5f5f5" stroke-width="0.4"/>
<line x1="37.50" y1="385.00" x2="37.50" y2="499.30" stroke="#e6e6e6" stroke-width="0.45"/>
<line x1="61.90" y1="385.00" x2="61.90" y2="499.30" stroke="#e6e6e6" stroke-width="0.45"/>
<line x1="23.10" y1="385.00" x2="23.10" y2="499.60" stroke="#aaa" stroke-width="0.8"/>
<line x1="23.10" y1="499.30" x2="75.90" y2="499.30" stroke="#aaa" stroke-width="0.8"/>
<text x="49.70" y="381.80" font-size="4.8" text-anchor="middle" fill="#333" stroke="#333" stroke-width="0.144">NAPSA</text>
<path d="M37.50 404.8 V401.8 H61.90 V404.8" fill="none" stroke="#444" stroke-width="0.45"/>
<text x="49.70" y="400.20" font-size="3.9" text-anchor="middle" fill="#333" stroke="#333" stroke-width="0.117"><tspan font-style="italic">P</tspan> = 0.00716</text>
<text x="49.70" y="406.00" font-size="4.2" text-anchor="middle" fill="#333" stroke="#333" stroke-width="0.126">**</text>
<line x1="37.50" y1="406.20" x2="37.50" y2="435.30" stroke="#888" stroke-width="0.55"/>
<line x1="34.90" y1="406.20" x2="40.10" y2="406.20" stroke="#999" stroke-width="0.55"/>
<line x1="34.90" y1="435.30" x2="40.10" y2="435.30" stroke="#999" stroke-width="0.55"/>
<line x1="61.90" y1="458.00" x2="61.90" y2="493.60" stroke="#888" stroke-width="0.55"/>
<line x1="59.30" y1="458.00" x2="64.50" y2="458.00" stroke="#999" stroke-width="0.55"/>
<line x1="59.30" y1="493.60" x2="64.50" y2="493.60" stroke="#999" stroke-width="0.55"/>
<circle cx="37.50" cy="420.84" r="1.3" fill="#a03050"/>
<circle cx="61.90" cy="493.60" r="1.3" fill="#1a9e8a"/>
<line x1="87.70" y1="493.60" x2="140.50" y2="493.60" stroke="#e6e6e6" stroke-width="0.45"/>
<line x1="87.70" y1="456.40" x2="140.50" y2="456.40" stroke="#e6e6e6" stroke-width="0.45"/>
<line x1="87.70" y1="419.20" x2="140.50" y2="419.20" stroke="#e6e6e6" stroke-width="0.45"/>
<line x1="87.70" y1="475.00" x2="140.50" y2="475.00" stroke="#f5f5f5" stroke-width="0.4"/>
<line x1="87.70" y1="437.80" x2="140.50" y2="437.80" stroke="#f5f5f5" stroke-width="0.4"/>
<line x1="87.70" y1="400.60" x2="140.50" y2="400.60" stroke="#f5f5f5" stroke-width="0.4"/>
<line x1="102.10" y1="385.00" x2="102.10" y2="499.30" stroke="#e6e6e6" stroke-width="0.45"/>
<line x1="126.50" y1="385.00" x2="126.50" y2="499.30" stroke="#e6e6e6" stroke-width="0.45"/>
<line x1="87.70" y1="385.00" x2="87.70" y2="499.60" stroke="#aaa" stroke-width="0.8"/>
<line x1="87.70" y1="499.30" x2="140.50" y2="499.30" stroke="#aaa" stroke-width="0.8"/>
<text x="114.30" y="381.80" font-size="4.8" text-anchor="middle" fill="#333" stroke="#333" stroke-width="0.144">NKX2-1</text>
<path d="M102.10 404.8 V401.8 H126.50 V404.8" fill="none" stroke="#444" stroke-width="0.45"/>
<text x="114.30" y="400.20" font-size="3.9" text-anchor="middle" fill="#333" stroke="#333" stroke-width="0.117"><tspan font-style="italic">P</tspan> = 0.00010</text>
<text x="114.30" y="406.00" font-size="4.2" text-anchor="middle" fill="#333" stroke="#333" stroke-width="0.126">**</text>
<line x1="102.10" y1="446.30" x2="102.10" y2="459.50" stroke="#888" stroke-width="0.55"/>
<line x1="99.50" y1="446.30" x2="104.70" y2="446.30" stroke="#999" stroke-width="0.55"/>
<line x1="99.50" y1="459.50" x2="104.70" y2="459.50" stroke="#999" stroke-width="0.55"/>
<line x1="126.50" y1="475.50" x2="126.50" y2="493.60" stroke="#888" stroke-width="0.55"/>
<line x1="123.90" y1="475.50" x2="129.10" y2="475.50" stroke="#999" stroke-width="0.55"/>
<line x1="123.90" y1="493.60" x2="129.10" y2="493.60" stroke="#999" stroke-width="0.55"/>
<circle cx="102.10" cy="453.05" r="1.3" fill="#a03050"/>
<circle cx="126.50" cy="493.60" r="1.3" fill="#1a9e8a"/>
<line x1="154.70" y1="493.60" x2="207.50" y2="493.60" stroke="#e6e6e6" stroke-width="0.45"/>
<line x1="154.70" y1="456.40" x2="207.50" y2="456.40" stroke="#e6e6e6" stroke-width="0.45"/>
<line x1="154.70" y1="419.20" x2="207.50" y2="419.20" stroke="#e6e6e6" stroke-width="0.45"/>
<line x1="154.70" y1="475.00" x2="207.50" y2="475.00" stroke="#f5f5f5" stroke-width="0.4"/>
<line x1="154.70" y1="437.80" x2="207.50" y2="437.80" stroke="#f5f5f5" stroke-width="0.4"/>
<line x1="154.70" y1="400.60" x2="207.50" y2="400.60" stroke="#f5f5f5" stroke-width="0.4"/>
<line x1="169.10" y1="385.00" x2="169.10" y2="499.30" stroke="#e6e6e6" stroke-width="0.45"/>
<line x1="193.50" y1="385.00" x2="193.50" y2="499.30" stroke="#e6e6e6" stroke-width="0.45"/>
<line x1="154.70" y1="385.00" x2="154.70" y2="499.60" stroke="#aaa" stroke-width="0.8"/>
<line x1="154.70" y1="499.30" x2="207.50" y2="499.30" stroke="#aaa" stroke-width="0.8"/>
<text x="181.30" y="381.80" font-size="4.8" text-anchor="middle" fill="#333" stroke="#333" stroke-width="0.144">SFTA2</text>
<path d="M169.10 404.8 V401.8 H193.50 V404.8" fill="none" stroke="#444" stroke-width="0.45"/>
<text x="181.30" y="400.20" font-size="3.9" text-anchor="middle" fill="#333" stroke="#333" stroke-width="0.117"><tspan font-style="italic">P</tspan> = 0.00533</text>
<text x="181.30" y="406.00" font-size="4.2" text-anchor="middle" fill="#333" stroke="#333" stroke-width="0.126">**</text>
<line x1="169.10" y1="412.50" x2="169.10" y2="436.80" stroke="#888" stroke-width="0.55"/>
<line x1="166.50" y1="412.50" x2="171.70" y2="412.50" stroke="#999" stroke-width="0.55"/>
<line x1="166.50" y1="436.80" x2="171.70" y2="436.80" stroke="#999" stroke-width="0.55"/>
<line x1="193.50" y1="460.20" x2="193.50" y2="493.60" stroke="#888" stroke-width="0.55"/>
<line x1="190.90" y1="460.20" x2="196.10" y2="460.20" stroke="#999" stroke-width="0.55"/>
<line x1="190.90" y1="493.60" x2="196.10" y2="493.60" stroke="#999" stroke-width="0.55"/>
<circle cx="169.10" cy="425.82" r="1.3" fill="#a03050"/>
<circle cx="193.50" cy="493.60" r="1.3" fill="#1a9e8a"/>
<line x1="215.60" y1="493.60" x2="268.40" y2="493.60" stroke="#e6e6e6" stroke-width="0.45"/>
<line x1="215.60" y1="456.40" x2="268.40" y2="456.40" stroke="#e6e6e6" stroke-width="0.45"/>
<line x1="215.60" y1="419.20" x2="268.40" y2="419.20" stroke="#e6e6e6" stroke-width="0.45"/>
<line x1="215.60" y1="475.00" x2="268.40" y2="475.00" stroke="#f5f5f5" stroke-width="0.4"/>
<line x1="215.60" y1="437.80" x2="268.40" y2="437.80" stroke="#f5f5f5" stroke-width="0.4"/>
<line x1="215.60" y1="400.60" x2="268.40" y2="400.60" stroke="#f5f5f5" stroke-width="0.4"/>
<line x1="230.00" y1="385.00" x2="230.00" y2="499.30" stroke="#e6e6e6" stroke-width="0.45"/>
<line x1="254.40" y1="385.00" x2="254.40" y2="499.30" stroke="#e6e6e6" stroke-width="0.45"/>
<line x1="215.60" y1="385.00" x2="215.60" y2="499.60" stroke="#aaa" stroke-width="0.8"/>
<line x1="215.60" y1="499.30" x2="268.40" y2="499.30" stroke="#aaa" stroke-width="0.8"/>
<text x="242.20" y="381.80" font-size="4.8" text-anchor="middle" fill="#333" stroke="#333" stroke-width="0.144">SFTA3</text>
<path d="M230.00 404.8 V401.8 H254.40 V404.8" fill="none" stroke="#444" stroke-width="0.45"/>
<text x="242.20" y="400.20" font-size="3.9" text-anchor="middle" fill="#333" stroke="#333" stroke-width="0.117"><tspan font-style="italic">P</tspan> = 0.00555</text>
<text x="242.20" y="406.00" font-size="4.2" text-anchor="middle" fill="#333" stroke="#333" stroke-width="0.126">**</text>
<line x1="230.00" y1="434.60" x2="230.00" y2="454.00" stroke="#888" stroke-width="0.55"/>
<line x1="227.40" y1="434.60" x2="232.60" y2="434.60" stroke="#999" stroke-width="0.55"/>
<line x1="227.40" y1="454.00" x2="232.60" y2="454.00" stroke="#999" stroke-width="0.55"/>
<line x1="254.40" y1="470.40" x2="254.40" y2="493.60" stroke="#888" stroke-width="0.55"/>
<line x1="251.80" y1="470.40" x2="257.00" y2="470.40" stroke="#999" stroke-width="0.55"/>
<line x1="251.80" y1="493.60" x2="257.00" y2="493.60" stroke="#999" stroke-width="0.55"/>
<circle cx="230.00" cy="444.50" r="1.3" fill="#a03050"/>
<circle cx="254.40" cy="493.60" r="1.3" fill="#1a9e8a"/>
<line x1="21.00" y1="493.60" x2="23.10" y2="493.60" stroke="#666" stroke-width="0.5"/>
<text x="20.40" y="495.30" font-size="4.8" text-anchor="end" fill="#444" stroke="#444" stroke-width="0.144">0</text>
<line x1="21.00" y1="456.40" x2="23.10" y2="456.40" stroke="#666" stroke-width="0.5"/>
<text x="20.40" y="458.10" font-size="4.8" text-anchor="end" fill="#444" stroke="#444" stroke-width="0.144">5</text>
<line x1="21.00" y1="419.20" x2="23.10" y2="419.20" stroke="#666" stroke-width="0.5"/>
<text x="20.40" y="420.90" font-size="4.8" text-anchor="end" fill="#444" stroke="#444" stroke-width="0.144">10</text>
<text transform="translate(14.60,432.80) rotate(-90)" font-size="7.7" text-anchor="middle" textLength="52.3" lengthAdjust="spacingAndGlyphs" fill="#222" stroke="#222" stroke-width="0.231">Log<tspan font-size="5.6" dy="1.8">2</tspan><tspan dy="-1.8">(FPKM + 1)</tspan></text>
<text x="110.30" y="510.60" font-size="7.0" fill="#222" stroke="#222" stroke-width="0.210">T790M</text>
<circle cx="138.50" cy="508.10" r="1.4" fill="#ec8a80"/>
<text x="145.40" y="510.20" font-size="5.5" textLength="20.2" lengthAdjust="spacingAndGlyphs" fill="#333" stroke="#333" stroke-width="0.165">T790M<tspan dy="-1.9" font-size="4.4">+</tspan></text>
<circle cx="171.90" cy="508.10" r="1.4" fill="#2fb8b0"/>
<text x="179.80" y="510.20" font-size="5.5" textLength="20.8" lengthAdjust="spacingAndGlyphs" fill="#333" stroke="#333" stroke-width="0.165">T790M<tspan dy="-1.9" font-size="4.4">−</tspan></text>
<text x="-0.10" y="537.80" font-size="14.8" font-weight="bold">F</text>
<text x="136.80" y="538.40" font-size="6.6" text-anchor="middle" fill="#222" stroke="#222" stroke-width="0.198">NAPSA expression in treatment-naive LUAD</text>
<text transform="translate(10.00,619.20) rotate(-90)" font-size="7.7" text-anchor="middle" textLength="54.5" lengthAdjust="spacingAndGlyphs" fill="#222" stroke="#222" stroke-width="0.231">Log<tspan font-size="5.6" dy="1.8">2</tspan><tspan dy="-1.8">(FPKM + 1)</tspan></text>
<line x1="18.65" y1="592.60" x2="95.65" y2="592.60" stroke="#ececec" stroke-width="0.45"/>
<line x1="16.65" y1="592.60" x2="18.65" y2="592.60" stroke="#666" stroke-width="0.5"/>
<text x="16.05" y="594.10" font-size="4.2" text-anchor="end" fill="#444" stroke="#444" stroke-width="0.126">10</text>
<line x1="18.65" y1="646.00" x2="95.65" y2="646.00" stroke="#ececec" stroke-width="0.45"/>
<line x1="16.65" y1="646.00" x2="18.65" y2="646.00" stroke="#666" stroke-width="0.5"/>
<text x="16.05" y="647.50" font-size="4.2" text-anchor="end" fill="#444" stroke="#444" stroke-width="0.126">5</text>
<line x1="40.20" y1="549.60" x2="40.20" y2="679.00" stroke="#ececec" stroke-width="0.45"/>
<line x1="74.10" y1="549.60" x2="74.10" y2="679.00" stroke="#ececec" stroke-width="0.45"/>
<line x1="18.65" y1="549.60" x2="18.65" y2="679.60" stroke="#666" stroke-width="0.8"/>
<line x1="18.65" y1="679.20" x2="95.65" y2="679.20" stroke="#666" stroke-width="0.8"/>
<path d="M40.20 557.3 V555.0 H74.10 V557.3" fill="none" stroke="#444" stroke-width="0.45"/>
<text x="57.15" y="553.60" font-size="3.9" text-anchor="middle" fill="#333" stroke="#333" stroke-width="0.117"><tspan font-style="italic">P</tspan> = 4.3e-05</text>
<text x="57.15" y="559.60" font-size="4.2" text-anchor="middle" fill="#333" stroke="#333" stroke-width="0.126">**</text>
<path d="M40.50 560.10 C40.75 560.92 41.45 563.08 42.00 565.00 C42.55 566.92 42.78 569.28 43.80 571.60 C44.82 573.92 47.10 576.50 48.10 578.90 C49.10 581.30 49.67 583.60 49.80 586.00 C49.93 588.40 49.50 591.13 48.90 593.30 C48.30 595.47 47.05 597.32 46.20 599.00 C45.35 600.68 44.55 601.95 43.80 603.40 C43.05 604.85 42.13 606.27 41.70 607.70 C41.27 609.13 41.40 610.32 41.20 612.00 C41.00 613.68 40.72 616.83 40.50 617.80 C40.28 618.77 40.12 618.77 39.90 617.80 C39.68 616.83 39.40 613.68 39.20 612.00 C39.00 610.32 39.13 609.13 38.70 607.70 C38.27 606.27 37.35 604.85 36.60 603.40 C35.85 601.95 35.05 600.68 34.20 599.00 C33.35 597.32 32.10 595.47 31.50 593.30 C30.90 591.13 30.47 588.40 30.60 586.00 C30.73 583.60 31.30 581.30 32.30 578.90 C33.30 576.50 35.58 573.92 36.60 571.60 C37.62 569.28 37.85 566.92 38.40 565.00 C38.95 563.08 39.65 560.92 39.90 560.10Z" fill="none" stroke="#d99090" stroke-width="0.5"/>
<path d="M43.2 596.0h0M40.1 613.3h0M40.6 587.2h0M37.4 593.2h0M42.1 604.3h0M42.0 567.4h0M44.0 572.2h0M44.6 599.2h0M36.7 580.9h0M42.0 594.9h0M43.4 579.6h0M40.0 587.8h0M45.0 600.8h0M41.0 608.8h0M35.3 581.2h0M43.0 580.6h0M38.4 591.6h0M37.9 570.3h0M43.1 569.4h0M37.6 590.9h0M39.8 594.4h0M44.4 584.4h0M40.9 608.5h0M39.9 605.6h0M45.2 577.1h0M42.5 586.3h0M39.2 587.7h0M38.6 596.3h0M42.9 580.9h0M40.1 600.7h0M35.3 597.6h0M41.9 591.7h0M41.7 586.8h0M43.6 590.6h0M42.6 602.2h0M39.4 593.6h0M35.5 596.8h0M42.1 597.6h0M39.9 596.5h0M36.9 573.2h0" stroke="#f09a9a" stroke-opacity="0.75" stroke-width="1.6" stroke-linecap="round" fill="none"/>
<rect x="34.40" y="579.60" width="10.10" height="14.40" fill="none" stroke="#b86a6a" stroke-width="0.45"/>
<line x1="34.40" y1="587.20" x2="44.50" y2="587.20" stroke="#b86a6a" stroke-width="0.8"/>
<line x1="40.20" y1="561.10" x2="40.20" y2="579.60" stroke="#777" stroke-width="0.35"/>
<line x1="40.20" y1="594.00" x2="40.20" y2="616.80" stroke="#777" stroke-width="0.35"/>
<path d="M74.40 562.30 C74.60 562.92 75.17 564.45 75.60 566.00 C76.03 567.55 76.42 569.45 77.00 571.60 C77.58 573.75 78.50 576.50 79.10 578.90 C79.70 581.30 80.30 583.60 80.60 586.00 C80.90 588.40 80.95 591.13 80.90 593.30 C80.85 595.47 80.65 597.08 80.30 599.00 C79.95 600.92 79.25 602.87 78.80 604.80 C78.35 606.73 78.02 608.43 77.60 610.60 C77.18 612.77 76.65 614.57 76.30 617.80 C75.95 621.03 75.67 625.47 75.50 630.00 C75.33 634.53 75.37 640.00 75.30 645.00 C75.23 650.00 75.25 655.35 75.10 660.00 C74.95 664.65 74.62 670.75 74.40 672.90 C74.18 675.05 74.02 675.05 73.80 672.90 C73.58 670.75 73.25 664.65 73.10 660.00 C72.95 655.35 72.97 650.00 72.90 645.00 C72.83 640.00 72.87 634.53 72.70 630.00 C72.53 625.47 72.25 621.03 71.90 617.80 C71.55 614.57 71.02 612.77 70.60 610.60 C70.18 608.43 69.85 606.73 69.40 604.80 C68.95 602.87 68.25 600.92 67.90 599.00 C67.55 597.08 67.35 595.47 67.30 593.30 C67.25 591.13 67.30 588.40 67.60 586.00 C67.90 583.60 68.50 581.30 69.10 578.90 C69.70 576.50 70.62 573.75 71.20 571.60 C71.78 569.45 72.17 567.55 72.60 566.00 C73.03 564.45 73.60 562.92 73.80 562.30Z" fill="none" stroke="#4d8890" stroke-width="0.5"/>
<path d="M71.0 597.4h0M75.0 604.4h0M69.1 588.6h0M73.3 607.1h0M75.2 603.7h0M78.7 599.8h0M75.1 603.2h0M77.8 577.9h0M71.4 603.9h0M72.9 594.5h0M78.0 608.3h0M74.0 616.7h0M76.0 611.3h0M74.2 653.7h0M76.9 592.6h0M70.6 589.5h0M74.7 644.5h0M72.5 595.6h0M73.7 595.1h0M75.0 602.2h0M77.4 604.9h0M77.4 584.0h0M78.2 594.0h0M74.6 578.1h0M72.5 617.3h0M75.7 569.9h0M75.0 639.9h0M78.6 586.5h0M73.6 641.1h0M69.5 580.1h0M71.0 574.3h0M72.4 577.2h0M74.2 579.0h0M75.0 623.3h0M73.0 619.5h0M70.9 603.4h0M74.7 572.4h0M73.9 588.7h0M69.4 598.1h0M73.2 642.5h0M78.8 587.0h0M72.7 577.8h0M75.2 588.3h0M70.5 600.9h0M72.1 573.0h0M71.2 609.7h0M72.8 579.4h0M71.9 579.1h0M71.5 580.2h0M76.3 615.6h0M76.4 594.5h0M69.3 580.4h0M73.1 587.8h0M71.9 596.8h0M75.8 580.4h0M74.4 563.0h0M74.5 607.7h0M69.8 601.0h0M73.7 665.8h0M73.7 569.0h0M69.5 596.1h0M73.4 621.1h0M76.3 604.0h0M72.2 587.1h0M71.9 576.7h0M73.3 567.6h0M73.3 603.6h0M74.7 597.0h0M72.9 591.9h0M71.2 576.7h0" stroke="#5cc4d4" stroke-opacity="0.75" stroke-width="1.6" stroke-linecap="round" fill="none"/>
<rect x="68.30" y="582.90" width="11.60" height="20.50" fill="none" stroke="#3d6a70" stroke-width="0.45"/>
<line x1="68.30" y1="592.90" x2="79.90" y2="592.90" stroke="#3d6a70" stroke-width="0.8"/>
<line x1="74.10" y1="563.30" x2="74.10" y2="582.90" stroke="#777" stroke-width="0.35"/>
<line x1="74.10" y1="603.40" x2="74.10" y2="671.90" stroke="#777" stroke-width="0.35"/>
<text x="40.60" y="685.60" font-size="4.6" text-anchor="middle" textLength="16.3" lengthAdjust="spacingAndGlyphs" fill="#333" stroke="#333" stroke-width="0.138">Mutated</text>
<text x="40.20" y="690.70" font-size="4.6" text-anchor="middle" textLength="16.0" lengthAdjust="spacingAndGlyphs" fill="#333" stroke="#333" stroke-width="0.138">(<tspan font-style="italic">n</tspan> = 75)</text>
<text x="77.00" y="685.60" font-size="4.6" text-anchor="middle" textLength="45.8" lengthAdjust="spacingAndGlyphs" fill="#333" stroke="#333" stroke-width="0.138">Wild type/Other EGFR</text>
<text x="75.30" y="690.70" font-size="4.6" text-anchor="middle" textLength="16.3" lengthAdjust="spacingAndGlyphs" fill="#333" stroke="#333" stroke-width="0.138">(<tspan font-style="italic">n</tspan> = 96)</text>
<text x="55.30" y="699.60" font-size="7.5" text-anchor="middle" textLength="14.8" lengthAdjust="spacingAndGlyphs" fill="#333" stroke="#333" stroke-width="0.225">LCCS</text>
<line x1="106.50" y1="595.50" x2="180.30" y2="595.50" stroke="#ececec" stroke-width="0.45"/>
<line x1="104.50" y1="595.50" x2="106.50" y2="595.50" stroke="#666" stroke-width="0.5"/>
<text x="103.90" y="597.00" font-size="4.2" text-anchor="end" fill="#444" stroke="#444" stroke-width="0.126">10</text>
<line x1="106.50" y1="646.00" x2="180.30" y2="646.00" stroke="#ececec" stroke-width="0.45"/>
<line x1="104.50" y1="646.00" x2="106.50" y2="646.00" stroke="#666" stroke-width="0.5"/>
<text x="103.90" y="647.50" font-size="4.2" text-anchor="end" fill="#444" stroke="#444" stroke-width="0.126">5</text>
<line x1="126.40" y1="549.60" x2="126.40" y2="679.00" stroke="#ececec" stroke-width="0.45"/>
<line x1="160.40" y1="549.60" x2="160.40" y2="679.00" stroke="#ececec" stroke-width="0.45"/>
<line x1="106.50" y1="549.60" x2="106.50" y2="679.60" stroke="#666" stroke-width="0.8"/>
<line x1="106.50" y1="679.20" x2="180.30" y2="679.20" stroke="#666" stroke-width="0.8"/>
<path d="M126.40 557.3 V555.0 H160.40 V557.3" fill="none" stroke="#444" stroke-width="0.45"/>
<text x="143.40" y="553.60" font-size="3.9" text-anchor="middle" fill="#333" stroke="#333" stroke-width="0.117"><tspan font-style="italic">P</tspan> = 3e-07</text>
<text x="143.40" y="559.60" font-size="4.2" text-anchor="middle" fill="#333" stroke="#333" stroke-width="0.126">**</text>
<path d="M130.80 560.10 C131.13 561.33 132.18 565.60 132.80 567.50 C133.42 569.40 134.08 569.93 134.50 571.50 C134.92 573.07 135.47 575.10 135.30 576.90 C135.13 578.70 134.20 580.73 133.50 582.30 C132.80 583.87 131.83 584.95 131.10 586.30 C130.37 587.65 129.63 588.60 129.10 590.40 C128.57 592.20 128.17 594.17 127.90 597.10 C127.63 600.03 127.70 604.42 127.50 608.00 C127.30 611.58 126.93 616.83 126.70 618.60 C126.47 620.37 126.33 620.37 126.10 618.60 C125.87 616.83 125.50 611.58 125.30 608.00 C125.10 604.42 125.17 600.03 124.90 597.10 C124.63 594.17 124.23 592.20 123.70 590.40 C123.17 588.60 122.43 587.65 121.70 586.30 C120.97 584.95 120.00 583.87 119.30 582.30 C118.60 580.73 117.67 578.70 117.50 576.90 C117.33 575.10 117.88 573.07 118.30 571.50 C118.72 569.93 119.38 569.40 120.00 567.50 C120.62 565.60 121.67 561.33 122.00 560.10Z" fill="none" stroke="#d99090" stroke-width="0.5"/>
<path d="M124.3 575.5h0M124.3 592.7h0M130.0 567.7h0M125.0 573.6h0M127.2 579.4h0M123.1 565.7h0M130.5 567.0h0M125.9 587.1h0M127.6 595.0h0M131.2 584.6h0M124.2 583.1h0M125.0 571.9h0M131.2 580.7h0M124.1 588.8h0M126.5 582.1h0M126.0 594.4h0M124.5 578.7h0M128.4 582.5h0M128.2 581.3h0M124.2 590.6h0M127.2 565.2h0M124.1 578.0h0M127.1 602.0h0M123.5 560.3h0M128.3 582.7h0M124.1 572.5h0M129.1 569.9h0M127.1 573.2h0M130.4 585.0h0M127.5 577.8h0" stroke="#f09a9a" stroke-opacity="0.75" stroke-width="1.6" stroke-linecap="round" fill="none"/>
<rect x="120.80" y="571.50" width="10.10" height="10.80" fill="none" stroke="#b86a6a" stroke-width="0.45"/>
<line x1="120.80" y1="577.60" x2="130.90" y2="577.60" stroke="#b86a6a" stroke-width="0.8"/>
<line x1="126.40" y1="561.10" x2="126.40" y2="571.50" stroke="#777" stroke-width="0.35"/>
<line x1="126.40" y1="582.30" x2="126.40" y2="617.60" stroke="#777" stroke-width="0.35"/>
<path d="M163.40 564.80 C163.68 565.70 164.70 568.18 165.10 570.20 C165.50 572.22 165.68 573.53 165.80 576.90 C165.92 580.27 166.03 586.37 165.80 590.40 C165.57 594.43 164.88 598.42 164.40 601.10 C163.92 603.78 163.32 604.47 162.90 606.50 C162.48 608.53 162.12 609.38 161.90 613.30 C161.68 617.22 161.68 623.88 161.60 630.00 C161.52 636.12 161.55 642.80 161.40 650.00 C161.25 657.20 160.92 669.33 160.70 673.20 C160.48 677.07 160.32 677.07 160.10 673.20 C159.88 669.33 159.55 657.20 159.40 650.00 C159.25 642.80 159.28 636.12 159.20 630.00 C159.12 623.88 159.12 617.22 158.90 613.30 C158.68 609.38 158.32 608.53 157.90 606.50 C157.48 604.47 156.88 603.78 156.40 601.10 C155.92 598.42 155.23 594.43 155.00 590.40 C154.77 586.37 154.88 580.27 155.00 576.90 C155.12 573.53 155.30 572.22 155.70 570.20 C156.10 568.18 157.12 565.70 157.40 564.80Z" fill="none" stroke="#4d8890" stroke-width="0.5"/>
<path d="M160.9 568.1h0M159.7 630.2h0M163.6 571.5h0M159.5 616.5h0M156.9 581.8h0M161.0 631.5h0M156.0 576.0h0M160.0 587.2h0M160.8 573.9h0M160.9 605.5h0M160.6 667.2h0M158.9 577.5h0M160.4 606.2h0M160.2 621.1h0M156.1 590.6h0M160.2 594.2h0M163.5 574.8h0M158.8 603.9h0M159.6 620.8h0M159.8 616.0h0M160.1 619.8h0M162.7 568.7h0M159.6 580.9h0M158.1 588.3h0M159.7 637.0h0M160.0 614.4h0M163.7 586.1h0M164.6 579.6h0M160.1 666.4h0M161.3 611.3h0M165.1 581.3h0M159.6 640.9h0M160.9 604.8h0M162.5 579.3h0M156.0 570.9h0M158.0 606.6h0M161.8 597.1h0M156.2 582.9h0M160.3 579.8h0M160.3 626.1h0M158.9 571.3h0M158.0 580.4h0M162.7 594.7h0M161.7 593.2h0M164.2 591.4h0M155.9 584.0h0M162.6 565.8h0M157.1 569.1h0M156.4 571.7h0M161.9 572.0h0M163.8 572.3h0M158.0 577.9h0M162.7 597.2h0M159.6 615.3h0M158.9 587.0h0M161.6 573.4h0M159.6 635.3h0M160.8 593.8h0M158.2 596.6h0M161.8 593.5h0M163.8 576.0h0M161.6 627.9h0M158.7 609.1h0M159.5 571.8h0M160.1 659.1h0M163.3 584.3h0M157.7 576.1h0M158.8 567.7h0M164.7 576.5h0M156.5 575.9h0" stroke="#5cc4d4" stroke-opacity="0.75" stroke-width="1.6" stroke-linecap="round" fill="none"/>
<rect x="155.10" y="578.90" width="10.80" height="20.90" fill="none" stroke="#3d6a70" stroke-width="0.45"/>
<line x1="155.10" y1="592.00" x2="165.90" y2="592.00" stroke="#3d6a70" stroke-width="0.8"/>
<line x1="160.40" y1="565.80" x2="160.40" y2="578.90" stroke="#777" stroke-width="0.35"/>
<line x1="160.40" y1="599.80" x2="160.40" y2="672.20" stroke="#777" stroke-width="0.35"/>
<text x="127.20" y="685.60" font-size="4.6" text-anchor="middle" textLength="16.3" lengthAdjust="spacingAndGlyphs" fill="#333" stroke="#333" stroke-width="0.138">Mutated</text>
<text x="126.40" y="690.70" font-size="4.6" text-anchor="middle" textLength="16.0" lengthAdjust="spacingAndGlyphs" fill="#333" stroke="#333" stroke-width="0.138">(<tspan font-style="italic">n</tspan> = 40)</text>
<text x="163.00" y="685.60" font-size="4.6" text-anchor="middle" textLength="45.8" lengthAdjust="spacingAndGlyphs" fill="#333" stroke="#333" stroke-width="0.138">Wild type/Other EGFR</text>
<text x="161.00" y="690.70" font-size="4.6" text-anchor="middle" textLength="16.3" lengthAdjust="spacingAndGlyphs" fill="#333" stroke="#333" stroke-width="0.138">(<tspan font-style="italic">n</tspan> = 88)</text>
<text x="142.80" y="699.60" font-size="7.5" text-anchor="middle" textLength="24.0" lengthAdjust="spacingAndGlyphs" fill="#333" stroke="#333" stroke-width="0.225">CHOICE</text>
<line x1="192.60" y1="568.80" x2="269.40" y2="568.80" stroke="#ececec" stroke-width="0.45"/>
<line x1="190.60" y1="568.80" x2="192.60" y2="568.80" stroke="#666" stroke-width="0.5"/>
<text x="190.00" y="570.30" font-size="4.2" text-anchor="end" fill="#444" stroke="#444" stroke-width="0.126">25</text>
<line x1="192.60" y1="605.20" x2="269.40" y2="605.20" stroke="#ececec" stroke-width="0.45"/>
<line x1="190.60" y1="605.20" x2="192.60" y2="605.20" stroke="#666" stroke-width="0.5"/>
<text x="190.00" y="606.70" font-size="4.2" text-anchor="end" fill="#444" stroke="#444" stroke-width="0.126">20</text>
<line x1="192.60" y1="641.20" x2="269.40" y2="641.20" stroke="#ececec" stroke-width="0.45"/>
<line x1="190.60" y1="641.20" x2="192.60" y2="641.20" stroke="#666" stroke-width="0.5"/>
<text x="190.00" y="642.70" font-size="4.2" text-anchor="end" fill="#444" stroke="#444" stroke-width="0.126">15</text>
<line x1="192.60" y1="675.60" x2="269.40" y2="675.60" stroke="#ececec" stroke-width="0.45"/>
<line x1="190.60" y1="675.60" x2="192.60" y2="675.60" stroke="#666" stroke-width="0.5"/>
<text x="190.00" y="677.10" font-size="4.2" text-anchor="end" fill="#444" stroke="#444" stroke-width="0.126">10</text>
<line x1="214.00" y1="549.60" x2="214.00" y2="679.00" stroke="#ececec" stroke-width="0.45"/>
<line x1="248.00" y1="549.60" x2="248.00" y2="679.00" stroke="#ececec" stroke-width="0.45"/>
<line x1="192.60" y1="549.60" x2="192.60" y2="679.60" stroke="#666" stroke-width="0.8"/>
<line x1="192.60" y1="679.20" x2="269.40" y2="679.20" stroke="#666" stroke-width="0.8"/>
<path d="M214.00 557.3 V555.0 H248.00 V557.3" fill="none" stroke="#444" stroke-width="0.45"/>
<text x="231.00" y="553.60" font-size="3.9" text-anchor="middle" fill="#333" stroke="#333" stroke-width="0.117"><tspan font-style="italic">P</tspan> = 3.7e-07</text>
<text x="231.00" y="559.60" font-size="4.2" text-anchor="middle" fill="#333" stroke="#333" stroke-width="0.126">**</text>
<path d="M220.00 564.10 C220.25 564.67 221.12 565.82 221.50 567.50 C221.88 569.18 222.18 571.73 222.30 574.20 C222.42 576.67 222.75 579.83 222.20 582.30 C221.65 584.77 219.92 586.98 219.00 589.00 C218.08 591.02 217.33 592.82 216.70 594.40 C216.07 595.98 215.48 595.90 215.20 598.50 C214.92 601.10 215.15 606.45 215.00 610.00 C214.85 613.55 214.52 618.17 214.30 619.80 C214.08 621.43 213.92 621.43 213.70 619.80 C213.48 618.17 213.15 613.55 213.00 610.00 C212.85 606.45 213.08 601.10 212.80 598.50 C212.52 595.90 211.93 595.98 211.30 594.40 C210.67 592.82 209.92 591.02 209.00 589.00 C208.08 586.98 206.35 584.77 205.80 582.30 C205.25 579.83 205.58 576.67 205.70 574.20 C205.82 571.73 206.12 569.18 206.50 567.50 C206.88 565.82 207.75 564.67 208.00 564.10Z" fill="none" stroke="#d99090" stroke-width="0.5"/>
<path d="M216.8 594.0h0M218.7 579.3h0M214.1 587.9h0M214.3 582.2h0M218.4 571.9h0M217.8 590.1h0M211.6 579.9h0M213.1 597.8h0M209.9 571.5h0M214.2 603.0h0M209.5 578.1h0M214.6 604.2h0M215.4 582.8h0M210.3 582.7h0M218.8 587.5h0M216.6 571.2h0M215.0 604.7h0M215.6 581.5h0M216.3 591.6h0M213.8 566.5h0M218.7 570.8h0M211.3 585.5h0M215.6 579.3h0M212.6 592.2h0M217.4 567.5h0M209.1 572.3h0M213.9 606.8h0M216.7 565.5h0M210.0 567.8h0M211.2 584.7h0M212.0 564.3h0M217.9 573.3h0M213.1 586.5h0M216.7 565.6h0M212.3 588.8h0M216.7 578.0h0M217.4 574.8h0M215.1 584.5h0" stroke="#f09a9a" stroke-opacity="0.75" stroke-width="1.6" stroke-linecap="round" fill="none"/>
<rect x="208.80" y="569.90" width="11.40" height="15.40" fill="none" stroke="#b86a6a" stroke-width="0.45"/>
<line x1="208.80" y1="578.90" x2="220.20" y2="578.90" stroke="#b86a6a" stroke-width="0.8"/>
<line x1="214.00" y1="565.10" x2="214.00" y2="569.90" stroke="#777" stroke-width="0.35"/>
<line x1="214.00" y1="585.30" x2="214.00" y2="618.80" stroke="#777" stroke-width="0.35"/>
<path d="M249.00 560.80 C249.50 561.92 251.05 565.48 252.00 567.50 C252.95 569.52 253.97 570.88 254.70 572.90 C255.43 574.92 256.23 577.58 256.40 579.60 C256.57 581.62 256.20 583.20 255.70 585.00 C255.20 586.80 254.10 588.38 253.40 590.40 C252.70 592.42 251.98 594.42 251.50 597.10 C251.02 599.78 250.75 602.68 250.50 606.50 C250.25 610.32 250.17 614.42 250.00 620.00 C249.83 625.58 249.65 633.33 249.50 640.00 C249.35 646.67 249.30 654.47 249.10 660.00 C248.90 665.53 248.53 671.00 248.30 673.20 C248.07 675.40 247.93 675.40 247.70 673.20 C247.47 671.00 247.10 665.53 246.90 660.00 C246.70 654.47 246.65 646.67 246.50 640.00 C246.35 633.33 246.17 625.58 246.00 620.00 C245.83 614.42 245.75 610.32 245.50 606.50 C245.25 602.68 244.98 599.78 244.50 597.10 C244.02 594.42 243.30 592.42 242.60 590.40 C241.90 588.38 240.80 586.80 240.30 585.00 C239.80 583.20 239.43 581.62 239.60 579.60 C239.77 577.58 240.57 574.92 241.30 572.90 C242.03 570.88 243.05 569.52 244.00 567.50 C244.95 565.48 246.50 561.92 247.00 560.80Z" fill="none" stroke="#4d8890" stroke-width="0.5"/>
<path d="M246.7 601.5h0M247.8 561.6h0M248.5 572.6h0M243.1 569.8h0M247.7 621.2h0M251.2 586.6h0M245.4 568.8h0M243.8 574.7h0M248.0 632.3h0M247.5 577.8h0M243.9 588.2h0M246.6 593.6h0M249.2 599.3h0M249.6 612.7h0M246.3 567.3h0M251.8 575.6h0M248.8 595.2h0M247.8 627.2h0M246.9 643.3h0M249.1 568.4h0M249.9 579.0h0M249.3 631.0h0M252.3 580.3h0M248.6 606.0h0M243.5 579.0h0M246.9 619.9h0M243.3 585.6h0M252.8 574.5h0M244.6 595.8h0M245.7 589.5h0M249.9 568.2h0M247.2 616.0h0M245.7 592.5h0M246.1 612.2h0M252.6 588.6h0M246.7 597.0h0M248.8 577.6h0M246.0 586.4h0M249.6 586.5h0M247.0 638.4h0M247.8 595.9h0M248.6 575.8h0M252.3 582.7h0M246.0 593.9h0M252.1 578.9h0M249.9 569.7h0M247.1 631.0h0M247.9 610.5h0M248.7 615.3h0M248.2 586.3h0M249.2 577.3h0M251.5 568.1h0M250.7 565.6h0M251.1 592.0h0M248.7 587.9h0M247.1 597.7h0M247.3 560.8h0M249.3 588.9h0M248.1 614.6h0M250.9 591.0h0M250.7 572.6h0M246.8 608.5h0M247.4 595.0h0M246.7 608.3h0M245.2 602.0h0M243.1 574.4h0M247.9 587.1h0M247.8 584.4h0M251.5 568.5h0M249.2 640.9h0M243.6 584.3h0M247.8 619.5h0M249.5 569.0h0M247.1 565.2h0M248.2 580.0h0M247.5 602.7h0M250.4 571.5h0M246.6 608.9h0M252.5 573.5h0M249.4 607.2h0M249.6 616.1h0M247.9 665.2h0M246.6 585.6h0M248.9 594.3h0M244.6 582.5h0M244.7 597.8h0M245.9 576.4h0M246.8 597.0h0M248.8 569.3h0M249.7 625.5h0M246.6 625.6h0M250.5 575.3h0M245.2 575.6h0M248.9 591.5h0M249.1 586.7h0M246.2 604.3h0M248.1 660.8h0M248.3 582.5h0M249.0 604.6h0M252.5 577.2h0M247.2 599.6h0M246.9 627.2h0M246.3 631.6h0M248.0 602.8h0M249.7 569.1h0M251.7 571.6h0M249.0 654.6h0M250.1 573.6h0M250.2 612.9h0M246.9 582.9h0M245.0 591.5h0M247.3 585.7h0M246.8 599.3h0M246.8 609.3h0M249.2 598.4h0M244.1 589.4h0M248.1 610.1h0M247.6 564.3h0M247.5 667.7h0M244.3 572.1h0M244.9 576.9h0M244.3 579.6h0M247.0 631.7h0M246.8 587.0h0M248.1 592.1h0M243.6 578.8h0M248.2 623.2h0M247.8 616.7h0M248.9 597.8h0M252.2 588.2h0M245.6 577.1h0M252.6 587.7h0M249.4 565.1h0M249.6 602.5h0M250.1 575.6h0M252.9 578.0h0M246.5 616.9h0M247.3 572.6h0M249.2 612.8h0M251.2 576.0h0M248.2 666.5h0M249.6 604.8h0M246.5 594.2h0M247.0 575.6h0M249.0 574.2h0M252.6 577.9h0M246.9 564.9h0M243.2 580.1h0M250.3 606.6h0M247.1 643.1h0M245.0 577.2h0M251.2 576.3h0M249.9 594.8h0M252.3 593.9h0M247.4 588.4h0M248.7 580.0h0M251.6 574.9h0M247.3 620.6h0M245.7 583.0h0M251.3 586.8h0M246.4 606.3h0M250.8 579.1h0M247.1 625.3h0M245.9 606.5h0M249.4 577.9h0M246.5 573.9h0M245.6 568.8h0M244.2 580.5h0M247.7 608.0h0M248.2 617.8h0M252.5 580.8h0M246.1 596.2h0M247.9 630.7h0M245.7 582.5h0M247.8 584.7h0M247.9 582.9h0M247.9 562.5h0M250.9 577.8h0M244.4 582.1h0M250.0 587.3h0M247.8 598.0h0M247.7 585.4h0M249.3 620.5h0M247.2 664.3h0M247.7 613.6h0M249.8 599.2h0M249.2 582.7h0M248.7 581.7h0M249.2 605.7h0M245.8 593.7h0M252.9 576.4h0M245.4 598.2h0M247.5 654.7h0M243.3 590.5h0M247.5 589.5h0M252.0 573.0h0M246.2 593.1h0M247.5 624.9h0M243.7 592.3h0M247.2 579.7h0M249.2 594.2h0M247.6 643.8h0M246.9 606.6h0M247.2 606.6h0M245.5 602.0h0M252.8 575.7h0M245.3 579.5h0M247.6 584.2h0M248.0 648.0h0M252.0 575.7h0M243.7 576.7h0M247.3 587.7h0M248.3 578.3h0M248.1 629.9h0M243.7 582.3h0M251.9 586.4h0M247.2 595.7h0M249.7 624.0h0M250.0 618.4h0M248.5 596.3h0M247.8 583.7h0M244.6 583.3h0M250.8 597.9h0M248.7 589.9h0M251.8 581.4h0M248.1 586.4h0M250.3 607.1h0M243.3 577.4h0M245.8 600.2h0M246.7 562.3h0M249.4 588.9h0M247.5 596.3h0M248.2 623.9h0M245.4 581.1h0M246.1 583.9h0M249.2 643.6h0M251.1 572.7h0M246.9 593.3h0M251.5 568.0h0M251.4 593.2h0M244.3 575.6h0M249.8 597.1h0M247.5 666.3h0M247.3 610.7h0M250.1 616.5h0M250.9 569.7h0M246.9 648.2h0M249.3 631.6h0M245.6 582.5h0M252.7 582.9h0M245.0 577.6h0M252.6 572.8h0M248.4 669.1h0M249.4 625.9h0M249.7 573.9h0M245.9 577.6h0M247.4 572.0h0M249.6 624.9h0M249.2 644.8h0M249.3 611.7h0M249.9 618.0h0M249.0 570.7h0M246.0 580.4h0M247.6 649.5h0M249.2 640.3h0M248.3 671.9h0M248.0 576.8h0M250.4 583.4h0M249.0 579.4h0M247.8 660.8h0M243.8 578.1h0M246.8 619.0h0M247.7 587.2h0M246.9 626.8h0M247.2 660.3h0M245.6 578.1h0M248.1 569.3h0M249.2 617.7h0M248.8 650.1h0M249.3 570.9h0M246.0 580.1h0M245.5 565.6h0M252.8 578.7h0M250.5 581.4h0M249.8 574.4h0M243.3 587.8h0M246.6 609.2h0M245.9 597.0h0M246.6 625.1h0M249.0 579.2h0M250.6 580.9h0M246.2 627.4h0M245.6 583.2h0M251.9 575.8h0M249.7 633.0h0M247.2 600.7h0M248.6 607.5h0M246.5 619.5h0M244.7 582.6h0M245.6 608.8h0M244.0 576.5h0M246.4 584.2h0M248.2 620.9h0M244.9 587.2h0M246.3 589.2h0M243.4 579.7h0M246.3 576.1h0M250.1 578.2h0M244.1 581.3h0M246.5 614.0h0M248.4 641.7h0M247.0 641.3h0M251.5 587.9h0M252.3 582.7h0M249.6 593.1h0M248.1 665.6h0M246.7 635.2h0M249.3 598.3h0M250.1 572.6h0M249.4 579.5h0M244.5 593.0h0M251.2 573.6h0M244.1 580.7h0M249.5 574.8h0M248.9 648.2h0M247.2 585.3h0M249.8 600.3h0M248.7 563.8h0M246.9 587.5h0M248.4 620.8h0M248.2 637.6h0M245.9 591.3h0M249.5 629.3h0M252.5 585.7h0M248.1 669.7h0M246.9 603.1h0M249.0 573.1h0M249.2 630.9h0M243.6 584.4h0M248.8 654.9h0M243.8 573.4h0M252.9 576.6h0M249.8 611.0h0M248.5 645.6h0M244.6 591.1h0M250.1 570.1h0M246.6 643.3h0M251.3 569.0h0M250.7 582.4h0M251.2 591.4h0M248.5 596.1h0M252.6 590.8h0M247.6 584.5h0M252.8 577.7h0M248.9 584.6h0M247.0 616.6h0M247.9 646.9h0M252.8 573.2h0M248.2 569.0h0M244.4 585.6h0M249.9 595.2h0M243.8 583.8h0M248.6 635.8h0M250.2 590.8h0M250.1 579.6h0M246.4 578.7h0M249.8 601.5h0M252.9 578.1h0M251.0 584.5h0M252.1 570.2h0M249.1 641.5h0M247.0 588.3h0M247.3 635.8h0M246.1 571.1h0M245.7 598.4h0M247.5 665.5h0M250.5 568.0h0M248.4 644.7h0M245.8 584.5h0M243.1 586.7h0M247.3 609.4h0M245.7 575.0h0M252.3 571.2h0M248.7 637.2h0M247.1 624.9h0M244.1 577.3h0M250.9 576.2h0M244.7 587.2h0M246.1 580.5h0M250.6 603.2h0M245.9 609.2h0M247.2 663.3h0M248.5 565.2h0M245.4 579.3h0M247.0 652.6h0M251.0 589.2h0M247.3 640.4h0M248.9 603.3h0M249.0 596.3h0M249.6 563.7h0M249.5 615.9h0M247.8 582.3h0M247.9 618.5h0M243.4 588.9h0M248.5 617.3h0M249.1 617.7h0M247.2 620.2h0M247.8 569.0h0M243.1 584.6h0M252.8 585.2h0M249.1 565.4h0M246.5 636.7h0M248.4 663.3h0M245.6 605.5h0M248.2 632.1h0M245.9 597.9h0M249.0 596.1h0M245.7 599.2h0M250.8 571.1h0M251.2 571.2h0M244.9 588.3h0M249.7 570.8h0M247.0 587.5h0M246.4 563.2h0M248.9 644.7h0M245.0 565.4h0M248.4 606.7h0M245.1 590.5h0M247.3 649.4h0M249.8 576.4h0M245.7 608.9h0M247.6 592.6h0M245.7 598.1h0M248.1 608.6h0M251.6 592.8h0M248.4 577.5h0M245.2 584.0h0M245.4 589.1h0M252.0 572.4h0M249.9 607.8h0M248.4 563.0h0M247.1 648.9h0M246.7 594.3h0M246.9 622.2h0M248.4 600.4h0M246.7 605.0h0M249.0 596.7h0" stroke="#5cc4d4" stroke-opacity="0.75" stroke-width="1.6" stroke-linecap="round" fill="none"/>
<rect x="243.10" y="576.20" width="12.10" height="14.20" fill="none" stroke="#3d6a70" stroke-width="0.45"/>
<line x1="243.10" y1="585.30" x2="255.20" y2="585.30" stroke="#3d6a70" stroke-width="0.8"/>
<line x1="248.00" y1="561.80" x2="248.00" y2="576.20" stroke="#777" stroke-width="0.35"/>
<line x1="248.00" y1="590.40" x2="248.00" y2="672.20" stroke="#777" stroke-width="0.35"/>
<text x="215.30" y="685.60" font-size="4.6" text-anchor="middle" textLength="16.3" lengthAdjust="spacingAndGlyphs" fill="#333" stroke="#333" stroke-width="0.138">Mutated</text>
<text x="214.30" y="690.70" font-size="4.6" text-anchor="middle" textLength="16.0" lengthAdjust="spacingAndGlyphs" fill="#333" stroke="#333" stroke-width="0.138">(<tspan font-style="italic">n</tspan> = 41)</text>
<text x="251.90" y="685.60" font-size="4.6" text-anchor="middle" textLength="45.8" lengthAdjust="spacingAndGlyphs" fill="#333" stroke="#333" stroke-width="0.138">Wild type/Other EGFR</text>
<text x="249.40" y="690.70" font-size="4.6" text-anchor="middle" textLength="19.2" lengthAdjust="spacingAndGlyphs" fill="#333" stroke="#333" stroke-width="0.138">(<tspan font-style="italic">n</tspan> = 447)</text>
<text x="231.70" y="699.60" font-size="7.5" text-anchor="middle" textLength="16.3" lengthAdjust="spacingAndGlyphs" fill="#333" stroke="#333" stroke-width="0.225">TCGA</text>
<text x="279.70" y="199.80" font-size="14.8" font-weight="bold">D</text>
<text x="356.50" y="199.70" font-size="7.8" text-anchor="middle" textLength="26.5" lengthAdjust="spacingAndGlyphs" fill="#222" stroke="#222" stroke-width="0.234">T790M<tspan dy="-3" font-size="6.2">+</tspan></text>
<text x="357.70" y="208.70" font-size="7.8" text-anchor="middle" textLength="22.6" lengthAdjust="spacingAndGlyphs" fill="#222" stroke="#222" stroke-width="0.234">(A452)</text>
<text x="466.50" y="199.70" font-size="7.8" text-anchor="middle" textLength="27.9" lengthAdjust="spacingAndGlyphs" fill="#222" stroke="#222" stroke-width="0.234">T790M<tspan dy="-3" font-size="6.2">−</tspan></text>
<text x="465.70" y="208.70" font-size="7.8" text-anchor="middle" textLength="22.6" lengthAdjust="spacingAndGlyphs" fill="#222" stroke="#222" stroke-width="0.234">(A456)</text>
<rect x="286.90" y="215.80" width="10.50" height="79.20" fill="#000"/>
<text transform="translate(294.30,252.80) rotate(-90)" font-size="6.6" text-anchor="middle" textLength="14.0" lengthAdjust="spacingAndGlyphs" fill="#6fcf4f" stroke="#6fcf4f" stroke-width="0.198">TTF1</text>
<rect x="300.0" y="215.8" width="107.6" height="79.2" filter="url(#t00)"/>
<g mask="url(#gTop)"><rect x="300.0" y="215.8" width="107.6" height="79.2" filter="url(#t00e0)"/></g>
<g fill="none" stroke="#30b0a0" stroke-width="1.6" stroke-dasharray="2 1" opacity="0.35" filter="url(#rblur)"><ellipse cx="343.1" cy="265.4" rx="7.5" ry="6.5"/><ellipse cx="357.1" cy="274.0" rx="6.0" ry="5.5"/><ellipse cx="378.7" cy="267.5" rx="8.0" ry="7.0"/><ellipse cx="389.4" cy="239.5" rx="6.0" ry="5.0"/><ellipse cx="312.9" cy="230.9" rx="6.0" ry="5.0"/><ellipse cx="325.9" cy="241.7" rx="6.0" ry="5.0"/><ellipse cx="401.0" cy="286.8" rx="7.0" ry="6.0"/><ellipse cx="312.9" cy="280.5" rx="6.0" ry="5.0"/><ellipse cx="370.0" cy="287.8" rx="6.0" ry="5.0"/></g>
<path d="M384 215.8 L407.6 215.8 L407.6 244 C399.34000000000003 231.31 391.08 220.03 384 215.8Z" fill="#010106" opacity="0.95"/>
<rect x="411.0" y="215.8" width="104.5" height="79.2" filter="url(#t01)"/>
<path d="M481 215.8 L515.5 215.8 L515.5 244 C503.425 231.31 491.35 220.03 481 215.8Z" fill="#010106" opacity="0.95"/>
<path d="M411.0 277 L411.0 295.0 L434 295.0 C427.1 291.4 417.9 283.3 411.0 277Z" fill="#010106" opacity="0.95"/>
<rect x="286.90" y="299.40" width="10.50" height="79.20" fill="#000"/>
<text transform="translate(294.30,342.00) rotate(-90)" font-size="6.6" text-anchor="middle" textLength="25.5" lengthAdjust="spacingAndGlyphs" fill="#f4f4f4" stroke="#f4f4f4" stroke-width="0.198">NAPSA</text>
<rect x="300.0" y="299.4" width="107.6" height="79.2" filter="url(#t10)"/>
<path d="M371 299.4 L407.6 299.4 L407.6 330 C394.79 316.23 381.98 303.99 371 299.4Z" fill="#010106" opacity="0.95"/>
<rect x="411.0" y="299.4" width="104.5" height="79.2" filter="url(#t11)"/>
<path d="M477 299.4 L515.5 299.4 L515.5 337 C502.025 320.08 488.55 305.03999999999996 477 299.4Z" fill="#010106" opacity="0.95"/>
<path d="M411.0 356 L411.0 378.6 L438 378.6 C429.9 374.08000000000004 419.1 363.91 411.0 356Z" fill="#010106" opacity="0.95"/>
<rect x="286.90" y="383.00" width="10.50" height="79.60" fill="#000"/>
<text transform="translate(294.30,415.70) rotate(-90)" font-size="6.6" text-anchor="middle" textLength="25.5" lengthAdjust="spacingAndGlyphs" fill="#e8383a" stroke="#e8383a" stroke-width="0.198">L858R</text>
<rect x="300.0" y="383.0" width="107.6" height="79.6" filter="url(#t20)"/>
<g clip-path="url(#cp20)">
<polygon points="336,379 362,379 332,463 300,463 300,443" fill="#141c60" opacity="0.45" filter="url(#soft)"/>
</g>
<g fill="none" stroke="#a02050" stroke-width="1.6" stroke-dasharray="2 1" opacity="0.55" filter="url(#rblur)"><ellipse cx="343.1" cy="432.6" rx="7.5" ry="6.5"/><ellipse cx="357.1" cy="441.2" rx="6.0" ry="5.5"/><ellipse cx="378.7" cy="434.7" rx="8.0" ry="7.0"/><ellipse cx="389.4" cy="406.7" rx="6.0" ry="5.0"/><ellipse cx="312.9" cy="398.1" rx="6.0" ry="5.0"/><ellipse cx="325.9" cy="408.9" rx="6.0" ry="5.0"/><ellipse cx="401.0" cy="454.0" rx="7.0" ry="6.0"/><ellipse cx="312.9" cy="447.7" rx="6.0" ry="5.0"/><ellipse cx="370.0" cy="455.0" rx="6.0" ry="5.0"/></g>
<path d="M376 383.0 L407.6 383.0 L407.6 408 C396.54 396.75 385.48 386.75 376 383.0Z" fill="#010106" opacity="0.95"/>
<rect x="411.0" y="383.0" width="104.5" height="79.6" filter="url(#t21)"/>
<path d="M481 383.0 L515.5 383.0 L515.5 419 C503.425 402.8 491.35 388.4 481 383.0Z" fill="#010106" opacity="0.95"/>
<path d="M411.0 438 L411.0 462.6 L434 462.6 C427.1 457.68 417.9 446.61 411.0 438Z" fill="#010106" opacity="0.95"/>
<rect x="286.90" y="466.20" width="10.50" height="80.00" fill="#000"/>
<text transform="translate(294.30,504.40) rotate(-90)" font-size="6.6" text-anchor="middle" textLength="37.6" lengthAdjust="spacingAndGlyphs" fill="#e8383a" stroke="#e8383a" stroke-width="0.198">MERGED</text>
<rect x="300.0" y="466.2" width="107.6" height="80.0" filter="url(#t30)"/>
<g mask="url(#gTop)"><rect x="300.0" y="466.2" width="107.6" height="80.0" filter="url(#t30e0)"/></g>
<g clip-path="url(#cp30)">
<polygon points="336,462 362,462 332,546.2 300,546.2 300,526" fill="#1a2a80" opacity="0.5" filter="url(#soft)"/>
</g>
<g fill="none" stroke="#d05a40" stroke-width="1.6" stroke-dasharray="2 1" opacity="0.55" filter="url(#rblur)"><ellipse cx="343.1" cy="515.8" rx="7.5" ry="6.5"/><ellipse cx="357.1" cy="524.4" rx="6.0" ry="5.5"/><ellipse cx="378.7" cy="517.9" rx="8.0" ry="7.0"/><ellipse cx="389.4" cy="489.9" rx="6.0" ry="5.0"/><ellipse cx="312.9" cy="481.3" rx="6.0" ry="5.0"/><ellipse cx="325.9" cy="492.1" rx="6.0" ry="5.0"/><ellipse cx="401.0" cy="537.2" rx="7.0" ry="6.0"/><ellipse cx="312.9" cy="530.9" rx="6.0" ry="5.0"/><ellipse cx="370.0" cy="538.2" rx="6.0" ry="5.0"/></g>
<path d="M386 466.2 L407.6 466.2 L407.6 486 C400.04 477.09 392.48 469.17 386 466.2Z" fill="#010106" opacity="0.95"/>
<rect x="411.0" y="466.2" width="104.5" height="80.0" filter="url(#t31)"/>
<path d="M481 466.2 L515.5 466.2 L515.5 486 C503.425 477.09 491.35 469.17 481 466.2Z" fill="#010106" opacity="0.95"/>
<path d="M411.0 527 L411.0 546.2 L438 546.2 C429.9 542.36 419.1 533.72 411.0 527Z" fill="#010106" opacity="0.95"/>
<text x="345.75" y="561.20" font-size="7.1" text-anchor="middle" fill="#222" stroke="#222" stroke-width="0.213">NKX2-1 (TTF1)</text>
<text transform="translate(288.30,617.80) rotate(-90)" font-size="7.0" text-anchor="middle" textLength="66" lengthAdjust="spacingAndGlyphs" fill="#222" stroke="#222" stroke-width="0.210">Median IHC intensity</text>
<line x1="301.75" y1="668.80" x2="395.50" y2="668.80" stroke="#ececec" stroke-width="0.45"/>
<line x1="299.75" y1="668.80" x2="301.75" y2="668.80" stroke="#666" stroke-width="0.5"/>
<text x="298.95" y="670.40" font-size="4.6" text-anchor="end" fill="#444" stroke="#444" stroke-width="0.138">20</text>
<line x1="301.75" y1="629.40" x2="395.50" y2="629.40" stroke="#ececec" stroke-width="0.45"/>
<line x1="299.75" y1="629.40" x2="301.75" y2="629.40" stroke="#666" stroke-width="0.5"/>
<text x="298.95" y="631.00" font-size="4.6" text-anchor="end" fill="#444" stroke="#444" stroke-width="0.138">30</text>
<line x1="301.75" y1="590.00" x2="395.50" y2="590.00" stroke="#ececec" stroke-width="0.45"/>
<line x1="299.75" y1="590.00" x2="301.75" y2="590.00" stroke="#666" stroke-width="0.5"/>
<text x="298.95" y="591.60" font-size="4.6" text-anchor="end" fill="#444" stroke="#444" stroke-width="0.138">40</text>
<line x1="301.75" y1="649.10" x2="395.50" y2="649.10" stroke="#f6f6f6" stroke-width="0.4"/>
<line x1="301.75" y1="609.70" x2="395.50" y2="609.70" stroke="#f6f6f6" stroke-width="0.4"/>
<line x1="327.00" y1="565.50" x2="327.00" y2="679.25" stroke="#ececec" stroke-width="0.45"/>
<line x1="370.00" y1="565.50" x2="370.00" y2="679.25" stroke="#ececec" stroke-width="0.45"/>
<line x1="301.75" y1="565.50" x2="301.75" y2="679.25" stroke="#666" stroke-width="0.6"/>
<line x1="301.75" y1="679.25" x2="395.50" y2="679.25" stroke="#666" stroke-width="0.6"/>
<path d="M327 572.5 V570 H370 V572.5" fill="none" stroke="#444" stroke-width="0.45"/>
<text x="348.50" y="568.60" font-size="4.7" text-anchor="middle" fill="#333" stroke="#333" stroke-width="0.141"><tspan font-style="italic">P</tspan> = 0.067</text>
<circle cx="348.75" cy="573.20" r="0.5" fill="#333"/>
<path d="M331.10 575.00 C330.95 575.83 330.58 578.00 330.20 580.00 C329.82 582.00 329.17 584.50 328.80 587.00 C328.43 589.50 327.93 592.50 328.00 595.00 C328.07 597.50 328.37 599.50 329.20 602.00 C330.03 604.50 331.70 607.50 333.00 610.00 C334.30 612.50 336.00 614.92 337.00 617.00 C338.00 619.08 339.00 620.75 339.00 622.50 C339.00 624.25 340.67 626.67 337.00 627.50 C333.33 628.33 320.67 628.33 317.00 627.50 C313.33 626.67 315.00 624.25 315.00 622.50 C315.00 620.75 316.00 619.08 317.00 617.00 C318.00 614.92 319.70 612.50 321.00 610.00 C322.30 607.50 323.97 604.50 324.80 602.00 C325.63 599.50 325.93 597.50 326.00 595.00 C326.07 592.50 325.57 589.50 325.20 587.00 C324.83 584.50 324.18 582.00 323.80 580.00 C323.42 578.00 323.05 575.83 322.90 575.00Z" fill="none" stroke="#555" stroke-width="0.45"/>
<rect x="320" y="606.25" width="12.5" height="18.25" fill="none" stroke="#555" stroke-width="0.45"/>
<line x1="320.00" y1="621.25" x2="332.50" y2="621.25" stroke="#333" stroke-width="0.8"/>
<line x1="327.00" y1="575.00" x2="327.00" y2="606.25" stroke="#777" stroke-width="0.35"/>
<circle cx="327.00" cy="575.00" r="0.9" fill="#e05050" fill-opacity="0.8"/>
<circle cx="329.50" cy="616.50" r="0.9" fill="#e05050" fill-opacity="0.8"/>
<circle cx="326.00" cy="624.20" r="0.9" fill="#e05050" fill-opacity="0.8"/>
<circle cx="329.00" cy="627.20" r="0.9" fill="#e05050" fill-opacity="0.8"/>
<path d="M373.75 610.00 C373.73 611.67 373.59 616.67 373.60 620.00 C373.61 623.33 373.63 626.67 373.80 630.00 C373.97 633.33 374.27 636.67 374.60 640.00 C374.93 643.33 375.37 646.67 375.80 650.00 C376.23 653.33 376.83 657.08 377.20 660.00 C377.57 662.92 378.12 665.12 378.00 667.50 C377.88 669.88 378.92 673.12 376.50 674.25 C374.08 675.38 365.92 675.38 363.50 674.25 C361.08 673.12 362.12 669.88 362.00 667.50 C361.88 665.12 362.43 662.92 362.80 660.00 C363.17 657.08 363.77 653.33 364.20 650.00 C364.63 646.67 365.07 643.33 365.40 640.00 C365.73 636.67 366.03 633.33 366.20 630.00 C366.37 626.67 366.39 623.33 366.40 620.00 C366.41 616.67 366.27 611.67 366.25 610.00Z" fill="none" stroke="#555" stroke-width="0.45"/>
<rect x="362.5" y="640" width="12.5" height="26.75" fill="none" stroke="#555" stroke-width="0.45"/>
<line x1="362.50" y1="651.25" x2="375.00" y2="651.25" stroke="#333" stroke-width="0.8"/>
<line x1="370.00" y1="610.00" x2="370.00" y2="640.00" stroke="#777" stroke-width="0.35"/>
<line x1="370.00" y1="666.75" x2="370.00" y2="674.25" stroke="#777" stroke-width="0.35"/>
<circle cx="372.00" cy="610.00" r="0.9" fill="#30b0b0" fill-opacity="0.8"/>
<circle cx="370.00" cy="643.00" r="0.9" fill="#30b0b0" fill-opacity="0.8"/>
<circle cx="374.50" cy="645.00" r="0.9" fill="#30b0b0" fill-opacity="0.8"/>
<circle cx="366.00" cy="659.00" r="0.9" fill="#30b0b0" fill-opacity="0.8"/>
<circle cx="367.00" cy="669.50" r="0.9" fill="#30b0b0" fill-opacity="0.8"/>
<circle cx="372.50" cy="674.00" r="0.9" fill="#30b0b0" fill-opacity="0.8"/>
<text x="327.00" y="685.00" font-size="4.9" text-anchor="middle" fill="#333" stroke="#333" stroke-width="0.147">T790M<tspan dy="-1.6" font-size="3.8">+</tspan></text>
<text x="327.00" y="689.60" font-size="4.8" text-anchor="middle" fill="#333" stroke="#333" stroke-width="0.144">(<tspan font-style="italic">n</tspan> = 4)</text>
<text x="370.00" y="685.00" font-size="4.9" text-anchor="middle" fill="#333" stroke="#333" stroke-width="0.147">T790M<tspan dy="-1.6" font-size="3.8">−</tspan></text>
<text x="370.00" y="689.60" font-size="4.8" text-anchor="middle" fill="#333" stroke="#333" stroke-width="0.144">(<tspan font-style="italic">n</tspan> = 6)</text>
<text x="471.25" y="560.60" font-size="7.1" text-anchor="middle" fill="#222" stroke="#222" stroke-width="0.213">NAPSA (Napsin-A)</text>
<line x1="423.75" y1="677.50" x2="514.50" y2="677.50" stroke="#ececec" stroke-width="0.45"/>
<line x1="421.75" y1="677.50" x2="423.75" y2="677.50" stroke="#666" stroke-width="0.5"/>
<text x="420.95" y="679.10" font-size="4.6" text-anchor="end" fill="#444" stroke="#444" stroke-width="0.138">0.0</text>
<line x1="423.75" y1="650.31" x2="514.50" y2="650.31" stroke="#ececec" stroke-width="0.45"/>
<line x1="421.75" y1="650.31" x2="423.75" y2="650.31" stroke="#666" stroke-width="0.5"/>
<text x="420.95" y="651.91" font-size="4.6" text-anchor="end" fill="#444" stroke="#444" stroke-width="0.138">2.5</text>
<line x1="423.75" y1="623.12" x2="514.50" y2="623.12" stroke="#ececec" stroke-width="0.45"/>
<line x1="421.75" y1="623.12" x2="423.75" y2="623.12" stroke="#666" stroke-width="0.5"/>
<text x="420.95" y="624.73" font-size="4.6" text-anchor="end" fill="#444" stroke="#444" stroke-width="0.138">5.0</text>
<line x1="423.75" y1="595.94" x2="514.50" y2="595.94" stroke="#ececec" stroke-width="0.45"/>
<line x1="421.75" y1="595.94" x2="423.75" y2="595.94" stroke="#666" stroke-width="0.5"/>
<text x="420.95" y="597.54" font-size="4.6" text-anchor="end" fill="#444" stroke="#444" stroke-width="0.138">7.5</text>
<line x1="423.75" y1="568.75" x2="514.50" y2="568.75" stroke="#ececec" stroke-width="0.45"/>
<line x1="421.75" y1="568.75" x2="423.75" y2="568.75" stroke="#666" stroke-width="0.5"/>
<text x="420.95" y="570.35" font-size="4.6" text-anchor="end" fill="#444" stroke="#444" stroke-width="0.138">10.0</text>
<line x1="448.00" y1="565.00" x2="448.00" y2="679.50" stroke="#ececec" stroke-width="0.45"/>
<line x1="490.00" y1="565.00" x2="490.00" y2="679.50" stroke="#ececec" stroke-width="0.45"/>
<line x1="423.75" y1="565.00" x2="423.75" y2="679.50" stroke="#666" stroke-width="0.6"/>
<line x1="423.75" y1="679.50" x2="514.50" y2="679.50" stroke="#666" stroke-width="0.6"/>
<path d="M448 572.5 V570 H490 V572.5" fill="none" stroke="#444" stroke-width="0.45"/>
<text x="469.00" y="568.60" font-size="4.7" text-anchor="middle" fill="#333" stroke="#333" stroke-width="0.141"><tspan font-style="italic">P</tspan> = 0.17</text>
<path d="M455.00 582.00 C455.10 583.33 455.43 586.00 455.60 590.00 C455.77 594.00 456.10 601.83 456.00 606.00 C455.90 610.17 455.40 612.25 455.00 615.00 C454.60 617.75 454.27 620.83 453.60 622.50 C452.93 624.17 451.43 622.92 451.00 625.00 C450.57 627.08 451.00 631.67 451.00 635.00 C451.00 638.33 451.00 642.08 451.00 645.00 C451.00 647.92 452.00 651.25 451.00 652.50 C450.00 653.75 446.00 653.75 445.00 652.50 C444.00 651.25 445.00 647.92 445.00 645.00 C445.00 642.08 445.00 638.33 445.00 635.00 C445.00 631.67 445.43 627.08 445.00 625.00 C444.57 622.92 443.07 624.17 442.40 622.50 C441.73 620.83 441.40 617.75 441.00 615.00 C440.60 612.25 440.10 610.17 440.00 606.00 C439.90 601.83 440.23 594.00 440.40 590.00 C440.57 586.00 440.90 583.33 441.00 582.00Z" fill="none" stroke="#555" stroke-width="0.45"/>
<rect x="441.25" y="595" width="13.25" height="28.75" fill="none" stroke="#555" stroke-width="0.45"/>
<line x1="441.25" y1="606.25" x2="454.50" y2="606.25" stroke="#333" stroke-width="0.8"/>
<line x1="448.00" y1="582.00" x2="448.00" y2="595.00" stroke="#777" stroke-width="0.35"/>
<line x1="448.00" y1="623.75" x2="448.00" y2="652.50" stroke="#777" stroke-width="0.35"/>
<circle cx="448.00" cy="582.00" r="0.9" fill="#e05050" fill-opacity="0.8"/>
<circle cx="444.00" cy="598.00" r="0.9" fill="#e05050" fill-opacity="0.8"/>
<circle cx="451.00" cy="613.00" r="0.9" fill="#e05050" fill-opacity="0.8"/>
<circle cx="448.00" cy="652.00" r="0.9" fill="#e05050" fill-opacity="0.8"/>
<path d="M493.40 575.00 C493.25 576.67 492.82 581.67 492.50 585.00 C492.18 588.33 491.75 591.88 491.50 595.00 C491.25 598.12 490.95 600.42 491.00 603.75 C491.05 607.08 491.47 611.46 491.80 615.00 C492.13 618.54 492.60 621.25 493.00 625.00 C493.40 628.75 493.53 633.33 494.20 637.50 C494.87 641.67 496.20 645.83 497.00 650.00 C497.80 654.17 498.75 659.17 499.00 662.50 C499.25 665.83 498.83 668.04 498.50 670.00 C498.17 671.96 499.58 673.54 497.00 674.25 C494.42 674.96 485.58 674.96 483.00 674.25 C480.42 673.54 481.83 671.96 481.50 670.00 C481.17 668.04 480.75 665.83 481.00 662.50 C481.25 659.17 482.20 654.17 483.00 650.00 C483.80 645.83 485.13 641.67 485.80 637.50 C486.47 633.33 486.60 628.75 487.00 625.00 C487.40 621.25 487.87 618.54 488.20 615.00 C488.53 611.46 488.95 607.08 489.00 603.75 C489.05 600.42 488.75 598.12 488.50 595.00 C488.25 591.88 487.82 588.33 487.50 585.00 C487.18 581.67 486.75 576.67 486.60 575.00Z" fill="none" stroke="#555" stroke-width="0.45"/>
<rect x="480" y="638" width="17" height="29" fill="none" stroke="#555" stroke-width="0.45"/>
<line x1="480.00" y1="665.50" x2="497.00" y2="665.50" stroke="#333" stroke-width="0.8"/>
<line x1="490.00" y1="575.00" x2="490.00" y2="638.00" stroke="#777" stroke-width="0.35"/>
<line x1="490.00" y1="667.00" x2="490.00" y2="674.25" stroke="#777" stroke-width="0.35"/>
<circle cx="490.00" cy="575.00" r="0.9" fill="#30b0b0" fill-opacity="0.8"/>
<circle cx="488.00" cy="629.00" r="0.9" fill="#30b0b0" fill-opacity="0.8"/>
<circle cx="491.00" cy="664.00" r="0.9" fill="#30b0b0" fill-opacity="0.8"/>
<circle cx="496.00" cy="674.00" r="0.9" fill="#30b0b0" fill-opacity="0.8"/>
<circle cx="487.00" cy="660.00" r="0.9" fill="#30b0b0" fill-opacity="0.8"/>
<circle cx="492.00" cy="666.00" r="0.9" fill="#30b0b0" fill-opacity="0.8"/>
<text x="448.00" y="685.00" font-size="4.9" text-anchor="middle" fill="#333" stroke="#333" stroke-width="0.147">T790M<tspan dy="-1.6" font-size="3.8">+</tspan></text>
<text x="448.00" y="689.60" font-size="4.8" text-anchor="middle" fill="#333" stroke="#333" stroke-width="0.144">(<tspan font-style="italic">n</tspan> = 4)</text>
<text x="490.00" y="685.00" font-size="4.9" text-anchor="middle" fill="#333" stroke="#333" stroke-width="0.147">T790M<tspan dy="-1.6" font-size="3.8">−</tspan></text>
<text x="490.00" y="689.60" font-size="4.8" text-anchor="middle" fill="#333" stroke="#333" stroke-width="0.144">(<tspan font-style="italic">n</tspan> = 6)</text>
<text x="395.50" y="692.60" font-size="7.2" fill="#333" stroke="#333" stroke-width="0.216">T790M</text>
</svg>
</body></html>
